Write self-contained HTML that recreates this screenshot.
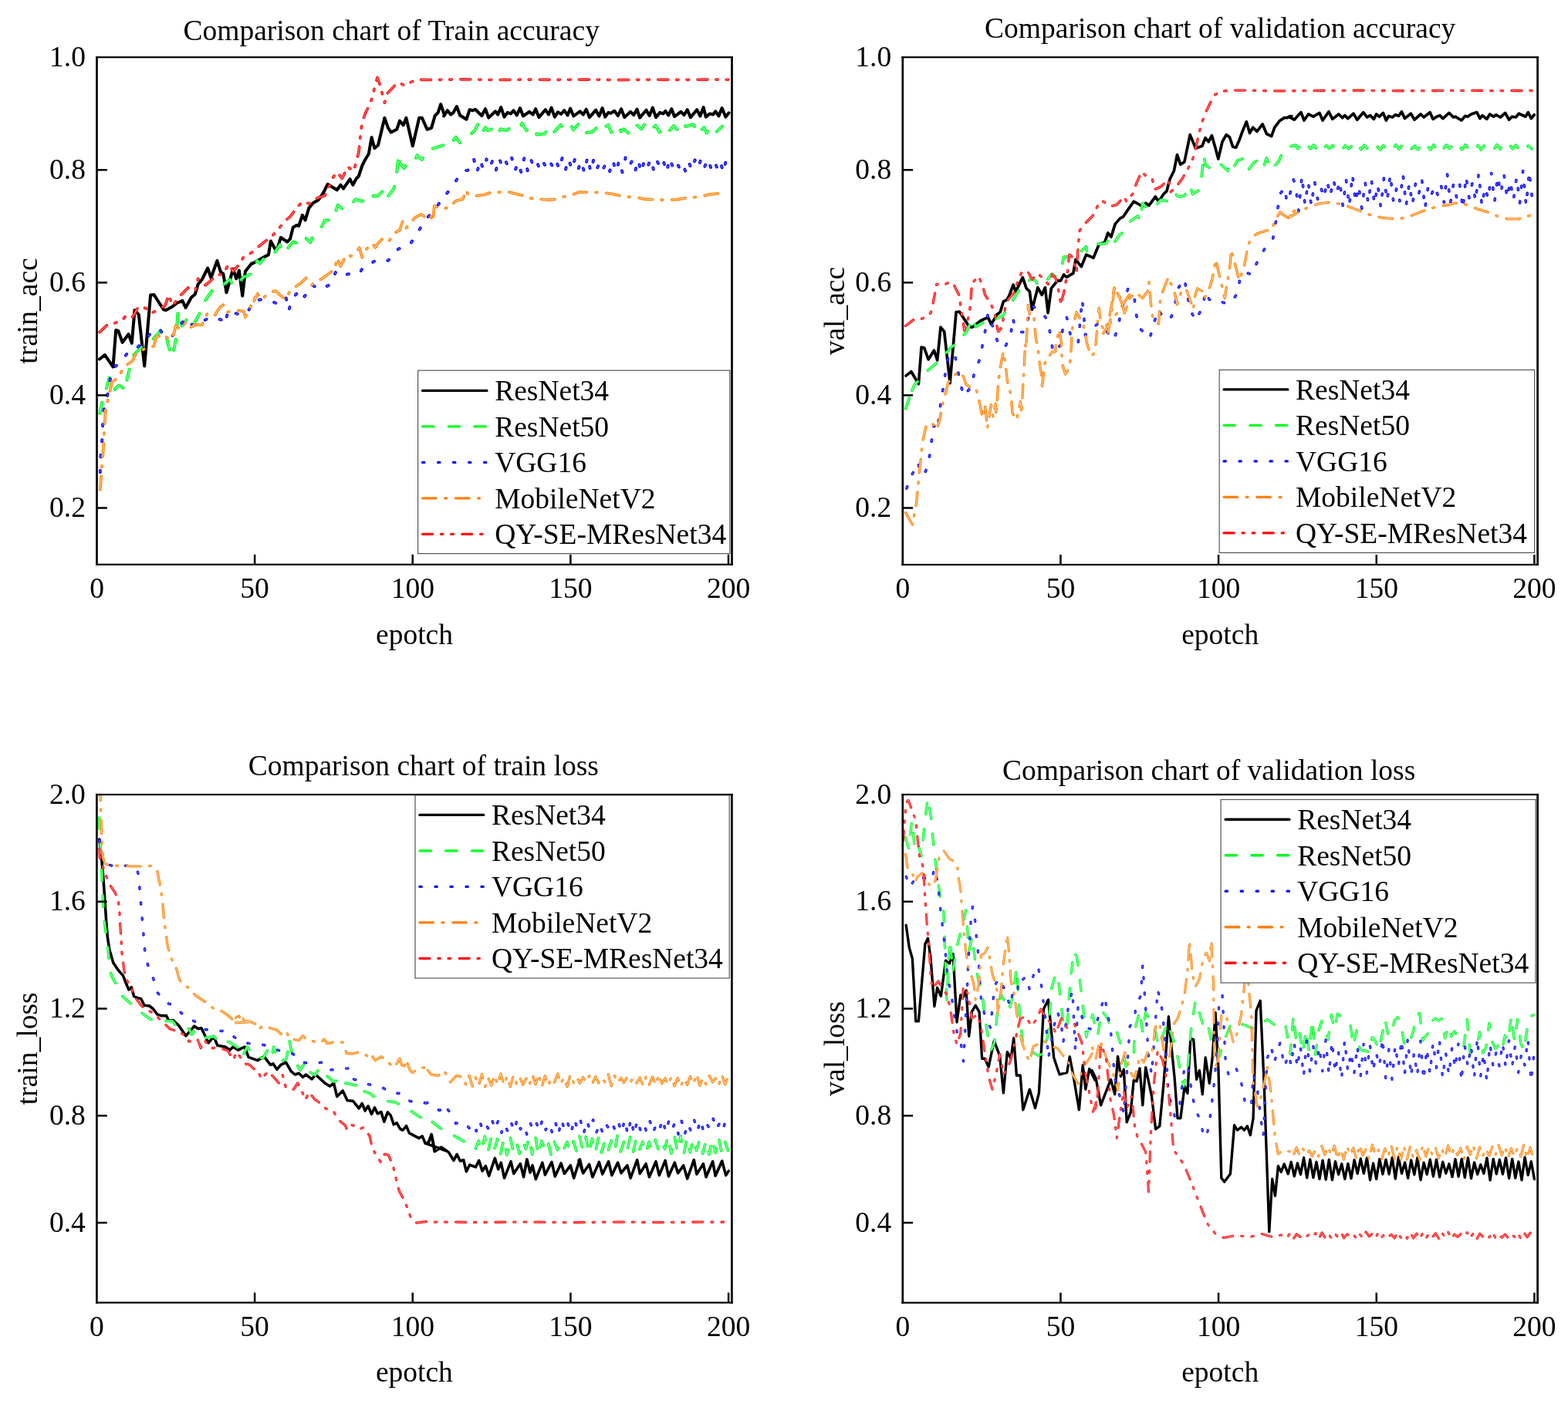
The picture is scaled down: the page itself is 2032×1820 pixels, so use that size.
<!DOCTYPE html><html><head><meta charset="utf-8"><title>Comparison charts</title>
<style>html,body{margin:0;padding:0;background:#fff;}svg{display:block;filter:blur(0.4px);}</style></head><body>
<svg width="2032" height="1820" viewBox="0 0 2032 1820" style="font-family:'Liberation Serif','Times New Roman',serif;">
<rect width="2032" height="1820" fill="#fff"/>
<clipPath id="c1"><rect x="125.5" y="74.2" width="823.0" height="657.5999999999999"/></clipPath>
<g clip-path="url(#c1)" fill="none" stroke-width="3.4" stroke-linejoin="round" stroke-linecap="round">
<path d="M129.0,465.5 L135.9,460.2 L146.5,475.6 L150.2,427.9 L153.3,429.0 L158.6,443.8 L166.6,433.2 L170.8,444.9 L174.5,402.0 L179.8,407.8 L187.2,474.5 L195.1,382.4 L199.4,381.9 L212.1,401.5 L215.2,402.0 L223.7,397.2 L229.0,393.0 L236.4,389.8 L240.6,398.8 L248.0,385.6 L252.8,381.4 L256.5,368.7 L261.8,362.3 L269.2,347.5 L273.4,360.2 L281.4,338.0 L286.1,352.8 L289.3,354.9 L293.5,379.3 L302.0,348.6 L306.2,361.3 L309.9,350.7 L314.2,383.5 L317.9,351.7 L326.3,341.2 L327.5,341.5 L344.3,332.1 L348.0,330.3 L350.8,312.5 L356.4,322.8 L359.2,322.8 L363.9,307.9 L372.3,313.5 L376.0,309.7 L379.8,294.8 L384.4,292.0 L387.2,292.9 L391.9,278.9 L395.6,285.5 L400.3,269.6 L405.9,263.0 L412.5,259.3 L419.0,250.0 L424.6,238.8 L436.7,246.2 L441.4,239.7 L445.1,244.4 L453.5,232.2 L457.3,239.7 L461.9,231.3 L464.8,228.5 L469.4,214.5 L473.2,207.0 L477.8,199.5 L481.6,178.1 L485.3,192.1 L490.0,188.3 L498.4,152.8 L503.0,165.9 L506.8,171.5 L514.2,167.8 L518.0,156.6 L522.7,162.2 L526.4,152.8 L534.8,189.3 L543.2,152.8 L546.9,152.8 L553.5,167.8 L559.1,165.9 L563.7,150.0 L567.5,146.3 L571.2,135.1 L575.9,149.1 L575.2,150.5 L579.9,143.2 L584.1,148.5 L587.2,146.4 L591.9,138.0 L596.1,149.5 L604.5,154.7 L608.6,142.2 L612.8,143.2 L615.9,141.7 L624.3,150.0 L629.0,141.2 L633.2,152.6 L642.0,144.3 L645.2,148.5 L649.3,139.1 L653.5,151.6 L657.7,145.9 L661.9,147.4 L665.5,143.2 L669.7,149.5 L673.9,140.1 L678.0,150.5 L685.9,144.8 L690.6,148.5 L694.2,141.2 L698.4,152.1 L706.8,142.2 L710.9,148.5 L714.6,139.6 L718.8,151.6 L722.9,145.3 L727.1,147.9 L731.3,143.2 L735.5,149.5 L739.1,140.6 L743.3,150.5 L751.6,144.3 L755.8,148.5 L759.7,141.7 L763.9,152.1 L772.2,142.7 L776.4,150.5 L780.6,140.1 L784.2,151.6 L788.4,145.9 L791.5,146.9 L796.2,143.8 L800.9,150.0 L805.1,141.2 L809.3,152.1 L817.1,144.8 L821.3,149.0 L825.5,141.7 L829.1,152.6 L837.5,142.7 L841.6,150.0 L845.8,139.6 L850.0,152.1 L855.2,145.9 L859.4,147.4 L862.5,143.8 L866.2,149.5 L870.4,141.2 L874.0,151.1 L882.4,144.8 L886.5,149.0 L890.7,142.2 L894.9,152.1 L903.2,142.2 L907.4,150.5 L911.6,139.1 L914.7,151.6 L919.9,147.4 L924.1,148.5 L927.3,144.3 L931.4,150.5 L935.6,140.1 L940.3,151.6 L944.5,146.4" stroke="#000000" stroke-width="4.03"/>
<path d="M129.3,535.8 L132.6,520.4 L138.1,502.3 L142.0,488.0 L148.6,504.8 L153.9,499.5 L159.2,502.6 L162.9,506.9 L164.4,492.1 L171.9,462.4 L174.0,459.3 L183.5,449.7 L194.1,444.4 L202.5,434.9 L211.0,425.4 L214.2,430.7 L218.4,448.7 L222.6,463.0 L225.8,450.8 L228.5,437.0 L230.6,403.2 L234.3,407.8 L235.9,422.6 L244.3,411.0 L250.2,421.6 L259.7,404.7 L265.0,390.9 L274.5,377.1 L277.7,372.9 L286.1,371.9 L297.8,362.3 L303.1,371.9 L315.8,359.2 L321.1,357.0 L326.3,354.9 L325.6,354.6 L333.1,337.8 L336.8,341.5 L344.3,332.1 L352.7,332.1 L363.0,317.2 L365.8,328.4 L370.4,324.7 L379.8,313.5 L389.1,316.3 L394.7,306.9 L402.2,314.4 L406.9,303.2 L415.3,296.7 L420.9,285.5 L432.1,285.5 L433.9,278.0 L437.7,265.8 L443.3,270.5 L450.7,270.5 L461.0,258.4 L469.4,261.2 L479.7,250.0 L484.4,254.6 L490.0,253.7 L499.3,244.4 L502.1,255.6 L510.5,244.4 L513.3,230.4 L517.0,199.5 L518.0,210.7 L523.6,218.2 L529.2,210.7 L536.7,210.7 L540.4,201.4 L546.9,207.0 L553.5,194.9 L568.4,190.2 L574.0,188.3 L575.2,188.1 L579.9,191.8 L590.9,177.7 L595.6,185.0 L599.2,180.8 L610.7,173.5 L615.9,168.3 L619.6,159.9 L624.3,172.5 L629.0,165.2 L632.6,169.3 L642.0,165.2 L645.2,173.5 L648.8,167.3 L656.1,169.3 L665.5,163.1 L673.4,165.7 L676.5,159.9 L682.2,169.3 L691.1,164.1 L695.8,174.6 L705.7,173.5 L713.0,163.1 L718.2,170.9 L726.6,162.0 L728.7,164.1 L734.9,166.2 L739.1,159.9 L742.8,168.3 L750.6,159.9 L756.3,172.5 L767.5,170.9 L771.7,167.3 L776.9,159.4 L783.2,165.2 L788.4,162.0 L792.1,171.4 L800.9,162.0 L804.6,170.4 L808.2,167.3 L816.6,174.6 L824.9,162.0 L831.2,167.3 L837.5,157.9 L840.1,164.1 L845.8,166.2 L849.5,162.6 L854.7,171.4 L863.6,164.1 L866.7,170.4 L873.0,163.1 L879.8,170.4 L886.5,159.9 L888.6,164.1 L897.0,161.5 L899.1,162.0 L903.2,174.0 L912.1,165.2 L915.8,172.5 L919.4,165.2 L926.2,173.0 L936.1,163.6" stroke="#00ff1e" stroke-width="4.03" stroke-dasharray="14.3 19.4"/>
<path d="M129.3,535.8 L132.6,520.4 L138.1,502.3 L142.0,488.0 L148.6,504.8 L153.9,499.5 L159.2,502.6 L162.9,506.9 L164.4,492.1 L171.9,462.4 L174.0,459.3 L183.5,449.7 L194.1,444.4 L202.5,434.9 L211.0,425.4 L214.2,430.7 L218.4,448.7 L222.6,463.0 L225.8,450.8 L228.5,437.0 L230.6,403.2 L234.3,407.8 L235.9,422.6 L244.3,411.0 L250.2,421.6 L259.7,404.7 L265.0,390.9 L274.5,377.1 L277.7,372.9 L286.1,371.9 L297.8,362.3 L303.1,371.9 L315.8,359.2 L321.1,357.0 L326.3,354.9 L325.6,354.6 L333.1,337.8 L336.8,341.5 L344.3,332.1 L352.7,332.1 L363.0,317.2 L365.8,328.4 L370.4,324.7 L379.8,313.5 L389.1,316.3 L394.7,306.9 L402.2,314.4 L406.9,303.2 L415.3,296.7 L420.9,285.5 L432.1,285.5 L433.9,278.0 L437.7,265.8 L443.3,270.5 L450.7,270.5 L461.0,258.4 L469.4,261.2 L479.7,250.0 L484.4,254.6 L490.0,253.7 L499.3,244.4 L502.1,255.6 L510.5,244.4 L513.3,230.4 L517.0,199.5 L518.0,210.7 L523.6,218.2 L529.2,210.7 L536.7,210.7 L540.4,201.4 L546.9,207.0 L553.5,194.9 L568.4,190.2 L574.0,188.3 L575.2,188.1 L579.9,191.8 L590.9,177.7 L595.6,185.0 L599.2,180.8 L610.7,173.5 L615.9,168.3 L619.6,159.9 L624.3,172.5 L629.0,165.2 L632.6,169.3 L642.0,165.2 L645.2,173.5 L648.8,167.3 L656.1,169.3 L665.5,163.1 L673.4,165.7 L676.5,159.9 L682.2,169.3 L691.1,164.1 L695.8,174.6 L705.7,173.5 L713.0,163.1 L718.2,170.9 L726.6,162.0 L728.7,164.1 L734.9,166.2 L739.1,159.9 L742.8,168.3 L750.6,159.9 L756.3,172.5 L767.5,170.9 L771.7,167.3 L776.9,159.4 L783.2,165.2 L788.4,162.0 L792.1,171.4 L800.9,162.0 L804.6,170.4 L808.2,167.3 L816.6,174.6 L824.9,162.0 L831.2,167.3 L837.5,157.9 L840.1,164.1 L845.8,166.2 L849.5,162.6 L854.7,171.4 L863.6,164.1 L866.7,170.4 L873.0,163.1 L879.8,170.4 L886.5,159.9 L888.6,164.1 L897.0,161.5 L899.1,162.0 L903.2,174.0 L912.1,165.2 L915.8,172.5 L919.4,165.2 L926.2,173.0 L936.1,163.6" stroke="#9dffc8" stroke-width="1.1" stroke-dasharray="14.3 19.4"/>
<path d="M129.9,612.2 L130.4,591.9 L132.1,572.1 L133.0,551.8 L134.3,532.5 L139.2,512.7 L142.5,493.0 L146.5,477.2 L156.5,469.3 L167.6,454.5 L177.7,450.8 L187.7,440.7 L198.3,428.6 L206.8,426.5 L212.6,435.4 L222.6,436.5 L232.2,423.8 L240.6,412.2 L250.7,422.8 L269.7,412.7 L277.7,411.6 L287.2,414.8 L290.9,420.6 L296.2,401.6 L307.3,406.9 L311.5,406.9 L319.5,406.9 L329.3,390.0 L338.7,388.2 L348.0,389.1 L357.4,392.9 L370.4,384.4 L374.2,403.1 L377.9,388.2 L389.1,375.1 L394.7,384.4 L404.0,369.5 L415.3,375.1 L428.3,368.6 L435.8,350.8 L447.0,356.4 L454.5,354.6 L465.7,354.6 L471.3,345.2 L480.6,341.5 L488.1,336.8 L503.0,337.8 L516.1,322.8 L531.1,317.2 L541.3,301.3 L551.6,284.5 L562.8,272.4 L574.9,255.6 L574.7,256.0 L587.7,239.8 L598.2,222.6 L610.0,219.6 L614.1,206.5 L618.2,223.3 L622.3,207.3 L626.4,220.1 L630.5,206.3 L634.6,217.5 L638.7,206.9 L642.7,221.0 L646.8,204.7 L650.9,216.8 L655.0,208.5 L659.1,216.8 L663.2,204.6 L667.3,221.5 L671.4,210.6 L675.5,223.8 L679.6,203.4 L683.7,221.2 L687.8,206.1 L691.9,217.3 L696.0,210.8 L700.0,220.2 L704.1,210.4 L708.2,217.6 L712.3,209.0 L716.4,216.3 L720.5,207.3 L724.6,219.5 L728.7,204.3 L732.8,220.1 L736.9,205.9 L741.0,220.0 L745.1,205.7 L749.2,219.7 L753.3,208.7 L757.3,223.9 L761.4,203.1 L765.5,222.7 L769.6,205.4 L773.7,218.6 L777.8,209.1 L781.9,218.4 L786.0,210.4 L790.1,222.1 L794.2,207.8 L798.3,222.7 L802.4,207.9 L806.5,223.6 L810.6,204.3 L814.6,216.1 L818.7,209.3 L822.8,223.2 L826.9,207.2 L831.0,223.7 L835.1,207.8 L839.2,216.7 L843.3,206.0 L847.4,222.2 L851.5,208.8 L855.6,216.8 L859.7,208.3 L863.8,223.6 L867.9,205.0 L872.0,217.0 L876.0,209.0 L880.1,216.9 L884.2,210.4 L888.3,222.3 L892.4,209.5 L896.5,220.5 L900.6,207.4 L904.7,217.6 L908.8,205.2 L912.9,217.1 L917.0,205.9 L921.1,217.0 L925.2,207.6 L929.3,217.8 L933.3,208.8 L937.4,223.7 L941.5,204.6" stroke="#0000ff" stroke-width="3.84" stroke-dasharray="2.2 17.8"/>
<path d="M129.9,612.2 L130.4,591.9 L132.1,572.1 L133.0,551.8 L134.3,532.5 L139.2,512.7 L142.5,493.0 L146.5,477.2 L156.5,469.3 L167.6,454.5 L177.7,450.8 L187.7,440.7 L198.3,428.6 L206.8,426.5 L212.6,435.4 L222.6,436.5 L232.2,423.8 L240.6,412.2 L250.7,422.8 L269.7,412.7 L277.7,411.6 L287.2,414.8 L290.9,420.6 L296.2,401.6 L307.3,406.9 L311.5,406.9 L319.5,406.9 L329.3,390.0 L338.7,388.2 L348.0,389.1 L357.4,392.9 L370.4,384.4 L374.2,403.1 L377.9,388.2 L389.1,375.1 L394.7,384.4 L404.0,369.5 L415.3,375.1 L428.3,368.6 L435.8,350.8 L447.0,356.4 L454.5,354.6 L465.7,354.6 L471.3,345.2 L480.6,341.5 L488.1,336.8 L503.0,337.8 L516.1,322.8 L531.1,317.2 L541.3,301.3 L551.6,284.5 L562.8,272.4 L574.9,255.6 L574.7,256.0 L587.7,239.8 L598.2,222.6 L610.0,219.6 L614.1,206.5 L618.2,223.3 L622.3,207.3 L626.4,220.1 L630.5,206.3 L634.6,217.5 L638.7,206.9 L642.7,221.0 L646.8,204.7 L650.9,216.8 L655.0,208.5 L659.1,216.8 L663.2,204.6 L667.3,221.5 L671.4,210.6 L675.5,223.8 L679.6,203.4 L683.7,221.2 L687.8,206.1 L691.9,217.3 L696.0,210.8 L700.0,220.2 L704.1,210.4 L708.2,217.6 L712.3,209.0 L716.4,216.3 L720.5,207.3 L724.6,219.5 L728.7,204.3 L732.8,220.1 L736.9,205.9 L741.0,220.0 L745.1,205.7 L749.2,219.7 L753.3,208.7 L757.3,223.9 L761.4,203.1 L765.5,222.7 L769.6,205.4 L773.7,218.6 L777.8,209.1 L781.9,218.4 L786.0,210.4 L790.1,222.1 L794.2,207.8 L798.3,222.7 L802.4,207.9 L806.5,223.6 L810.6,204.3 L814.6,216.1 L818.7,209.3 L822.8,223.2 L826.9,207.2 L831.0,223.7 L835.1,207.8 L839.2,216.7 L843.3,206.0 L847.4,222.2 L851.5,208.8 L855.6,216.8 L859.7,208.3 L863.8,223.6 L867.9,205.0 L872.0,217.0 L876.0,209.0 L880.1,216.9 L884.2,210.4 L888.3,222.3 L892.4,209.5 L896.5,220.5 L900.6,207.4 L904.7,217.6 L908.8,205.2 L912.9,217.1 L917.0,205.9 L921.1,217.0 L925.2,207.6 L929.3,217.8 L933.3,208.8 L937.4,223.7 L941.5,204.6" stroke="#8080ff" stroke-width="1.1" stroke-dasharray="2.2 17.8"/>
<path d="M129.9,634.7 L134.3,575.4 L136.5,532.5 L145.3,495.2 L153.0,489.7 L158.1,480.4 L164.4,473.0 L171.9,467.7 L176.1,457.7 L184.6,454.0 L189.8,450.3 L199.4,448.7 L202.5,437.0 L212.1,433.3 L220.0,441.3 L225.3,432.8 L227.9,422.2 L234.3,426.5 L240.1,418.5 L244.3,425.9 L253.3,420.6 L261.8,421.2 L268.7,406.3 L277.7,409.5 L285.1,398.3 L289.3,395.1 L293.5,404.7 L307.3,402.5 L315.8,403.6 L317.9,411.0 L330.6,385.6 L329.3,390.0 L334.0,380.7 L338.7,388.2 L349.9,378.8 L357.4,377.0 L363.0,382.6 L370.4,388.2 L376.0,377.0 L383.5,371.4 L389.1,367.6 L396.6,360.2 L404.0,369.5 L409.7,363.9 L416.2,362.0 L423.7,356.4 L433.9,349.0 L436.7,334.0 L441.4,345.2 L448.9,330.3 L454.5,332.1 L461.9,326.5 L465.7,320.9 L469.4,334.0 L475.0,322.8 L482.5,315.3 L486.2,320.9 L490.0,315.3 L497.4,307.9 L504.9,311.6 L510.5,302.3 L518.0,298.5 L521.7,287.3 L525.5,296.7 L532.9,287.3 L538.5,281.7 L546.0,278.0 L551.6,281.7 L557.2,278.0 L560.9,287.3 L562.8,266.8 L570.3,270.5 L583.6,269.0 L585.1,266.4 L590.9,260.2 L599.8,258.1 L603.9,246.6 L606.5,251.8 L617.0,253.9 L628.5,252.3 L636.8,249.2 L646.2,249.2 L658.7,248.7 L670.2,251.8 L679.6,253.9 L688.0,257.0 L699.4,258.1 L710.9,259.1 L721.4,258.1 L728.7,255.5 L740.2,252.9 L751.6,248.7 L755.0,249.2 L769.6,249.2 L781.1,249.7 L792.6,251.3 L809.3,254.9 L822.9,255.5 L835.4,258.1 L853.1,259.1 L864.6,259.1 L877.1,258.6 L893.8,256.0 L906.4,255.5 L917.9,252.3 L936.6,250.2" stroke="#ff8000" stroke-width="3.65" stroke-dasharray="17.5 11.6 1.8 12"/>
<path d="M129.9,634.7 L134.3,575.4 L136.5,532.5 L145.3,495.2 L153.0,489.7 L158.1,480.4 L164.4,473.0 L171.9,467.7 L176.1,457.7 L184.6,454.0 L189.8,450.3 L199.4,448.7 L202.5,437.0 L212.1,433.3 L220.0,441.3 L225.3,432.8 L227.9,422.2 L234.3,426.5 L240.1,418.5 L244.3,425.9 L253.3,420.6 L261.8,421.2 L268.7,406.3 L277.7,409.5 L285.1,398.3 L289.3,395.1 L293.5,404.7 L307.3,402.5 L315.8,403.6 L317.9,411.0 L330.6,385.6 L329.3,390.0 L334.0,380.7 L338.7,388.2 L349.9,378.8 L357.4,377.0 L363.0,382.6 L370.4,388.2 L376.0,377.0 L383.5,371.4 L389.1,367.6 L396.6,360.2 L404.0,369.5 L409.7,363.9 L416.2,362.0 L423.7,356.4 L433.9,349.0 L436.7,334.0 L441.4,345.2 L448.9,330.3 L454.5,332.1 L461.9,326.5 L465.7,320.9 L469.4,334.0 L475.0,322.8 L482.5,315.3 L486.2,320.9 L490.0,315.3 L497.4,307.9 L504.9,311.6 L510.5,302.3 L518.0,298.5 L521.7,287.3 L525.5,296.7 L532.9,287.3 L538.5,281.7 L546.0,278.0 L551.6,281.7 L557.2,278.0 L560.9,287.3 L562.8,266.8 L570.3,270.5 L583.6,269.0 L585.1,266.4 L590.9,260.2 L599.8,258.1 L603.9,246.6 L606.5,251.8 L617.0,253.9 L628.5,252.3 L636.8,249.2 L646.2,249.2 L658.7,248.7 L670.2,251.8 L679.6,253.9 L688.0,257.0 L699.4,258.1 L710.9,259.1 L721.4,258.1 L728.7,255.5 L740.2,252.9 L751.6,248.7 L755.0,249.2 L769.6,249.2 L781.1,249.7 L792.6,251.3 L809.3,254.9 L822.9,255.5 L835.4,258.1 L853.1,259.1 L864.6,259.1 L877.1,258.6 L893.8,256.0 L906.4,255.5 L917.9,252.3 L936.6,250.2" stroke="#ffd0a0" stroke-width="1.1" stroke-dasharray="17.5 11.6 1.8 12"/>
<path d="M129.0,430.6 L139.0,421.1 L148.6,418.9 L159.2,414.2 L164.4,407.8 L171.9,411.0 L179.3,397.8 L188.8,399.4 L196.2,405.7 L204.7,402.0 L214.2,395.7 L218.4,382.4 L223.7,396.2 L234.3,382.4 L244.9,371.9 L253.3,376.1 L256.5,361.3 L266.0,369.7 L271.3,365.5 L280.8,356.0 L288.3,356.0 L296.7,342.2 L302.0,351.7 L310.5,342.2 L315.8,332.7 L326.3,327.4 L331.2,322.8 L340.5,315.3 L351.8,306.9 L361.1,296.7 L368.6,287.3 L376.0,280.8 L385.4,268.6 L391.0,262.1 L402.2,264.0 L411.5,256.5 L420.9,253.7 L432.1,229.4 L436.7,222.9 L443.3,231.3 L450.7,216.3 L458.2,221.9 L461.9,208.9 L464.8,197.7 L467.6,171.5 L469.4,158.4 L474.1,145.4 L479.7,134.2 L483.4,123.0 L485.3,113.6 L489.0,100.5 L493.7,113.6 L495.6,123.0 L498.4,133.2 L502.1,121.1 L512.4,109.9 L518.0,107.1 L523.6,110.8 L531.1,107.1 L540.4,103.3 L560.0,103.5 L600.0,102.8 L640.0,103.6 L680.0,103.1 L720.0,103.4 L760.0,103.0 L800.0,103.6 L840.0,103.2 L880.0,103.4 L920.0,103.1 L944.5,103.3" stroke="#ff0a0a" stroke-width="3.65" stroke-dasharray="12.9 11 2.2 11 2.6 11.5"/>
<path d="M129.0,430.6 L139.0,421.1 L148.6,418.9 L159.2,414.2 L164.4,407.8 L171.9,411.0 L179.3,397.8 L188.8,399.4 L196.2,405.7 L204.7,402.0 L214.2,395.7 L218.4,382.4 L223.7,396.2 L234.3,382.4 L244.9,371.9 L253.3,376.1 L256.5,361.3 L266.0,369.7 L271.3,365.5 L280.8,356.0 L288.3,356.0 L296.7,342.2 L302.0,351.7 L310.5,342.2 L315.8,332.7 L326.3,327.4 L331.2,322.8 L340.5,315.3 L351.8,306.9 L361.1,296.7 L368.6,287.3 L376.0,280.8 L385.4,268.6 L391.0,262.1 L402.2,264.0 L411.5,256.5 L420.9,253.7 L432.1,229.4 L436.7,222.9 L443.3,231.3 L450.7,216.3 L458.2,221.9 L461.9,208.9 L464.8,197.7 L467.6,171.5 L469.4,158.4 L474.1,145.4 L479.7,134.2 L483.4,123.0 L485.3,113.6 L489.0,100.5 L493.7,113.6 L495.6,123.0 L498.4,133.2 L502.1,121.1 L512.4,109.9 L518.0,107.1 L523.6,110.8 L531.1,107.1 L540.4,103.3 L560.0,103.5 L600.0,102.8 L640.0,103.6 L680.0,103.1 L720.0,103.4 L760.0,103.0 L800.0,103.6 L840.0,103.2 L880.0,103.4 L920.0,103.1 L944.5,103.3" stroke="#ff8080" stroke-width="1.1" stroke-dasharray="12.9 11 2.2 11 2.6 11.5"/>
</g>
<rect x="541.6" y="480.2" width="404.2" height="237.4" fill="#fff" stroke="#555" stroke-width="1.2"/>
<line x1="547.6" y1="506.4" x2="630.9" y2="506.4" stroke="#000000" stroke-width="3.4" stroke-linecap="round"/>
<text x="641.2" y="519.1" font-size="37.5">ResNet34</text>
<line x1="547.6" y1="552.9" x2="630.9" y2="552.9" stroke="#00ff1e" stroke-width="3.4" stroke-linecap="round" stroke-dasharray="14.3 19.4"/>
<text x="641.2" y="565.6" font-size="37.5">ResNet50</text>
<line x1="547.6" y1="599.4" x2="630.9" y2="599.4" stroke="#0000ff" stroke-width="3.4" stroke-linecap="round" stroke-dasharray="2.2 17.8"/>
<text x="641.2" y="612.1" font-size="37.5">VGG16</text>
<line x1="547.6" y1="645.9" x2="630.9" y2="645.9" stroke="#ff8000" stroke-width="3.4" stroke-linecap="round" stroke-dasharray="17.5 11.6 1.8 12"/>
<text x="641.2" y="658.6" font-size="37.5">MobileNetV2</text>
<line x1="547.6" y1="692.4" x2="630.9" y2="692.4" stroke="#ff0a0a" stroke-width="3.4" stroke-linecap="round" stroke-dasharray="12.9 11 2.2 11 2.6 11.5"/>
<text x="641.2" y="705.1" font-size="37.5">QY-SE-MResNet34</text>
<g fill="#000">
<rect x="124.15" y="73.10" width="2.7" height="659.80"/>
<rect x="947.15" y="73.10" width="2.7" height="659.80"/>
<rect x="124.15" y="73.10" width="825.70" height="2.2"/>
<rect x="124.15" y="730.70" width="825.70" height="2.2"/>
<rect x="328.88" y="718.80" width="2.5" height="13"/>
<rect x="533.50" y="718.80" width="2.5" height="13"/>
<rect x="738.12" y="718.80" width="2.5" height="13"/>
<rect x="942.75" y="718.80" width="2.5" height="13"/>
<rect x="125.50" y="657.19" width="13.3" height="2.5"/>
<rect x="125.50" y="511.13" width="13.3" height="2.5"/>
<rect x="125.50" y="365.07" width="13.3" height="2.5"/>
<rect x="125.50" y="219.01" width="13.3" height="2.5"/>
</g>
<text x="125.5" y="775.0" font-size="37.5" text-anchor="middle">0</text>
<text x="330.1" y="775.0" font-size="37.5" text-anchor="middle">50</text>
<text x="534.8" y="775.0" font-size="37.5" text-anchor="middle">100</text>
<text x="739.4" y="775.0" font-size="37.5" text-anchor="middle">150</text>
<text x="944.0" y="775.0" font-size="37.5" text-anchor="middle">200</text>
<text x="110.9" y="669.9" font-size="37.5" text-anchor="end">0.2</text>
<text x="110.9" y="523.9" font-size="37.5" text-anchor="end">0.4</text>
<text x="110.9" y="377.8" font-size="37.5" text-anchor="end">0.6</text>
<text x="110.9" y="231.8" font-size="37.5" text-anchor="end">0.8</text>
<text x="110.9" y="85.7" font-size="37.5" text-anchor="end">1.0</text>
<text x="537.0" y="834.5" font-size="37.5" text-anchor="middle">epotch</text>
<text transform="translate(48.0,403.0) rotate(-90)" x="0" y="0" font-size="37.5" text-anchor="middle">train_acc</text>
<text x="507.2" y="51.6" font-size="37.5" text-anchor="middle">Comparison chart of Train accuracy</text>
<clipPath id="c2"><rect x="1169.8" y="74.2" width="822.8" height="657.8"/></clipPath>
<g clip-path="url(#c2)" fill="none" stroke-width="3.4" stroke-linejoin="round" stroke-linecap="round">
<path d="M1174.0,487.1 L1180.9,481.8 L1190.4,497.7 L1194.1,450.0 L1197.8,451.1 L1203.1,465.9 L1210.5,454.3 L1214.7,467.0 L1219.0,424.1 L1223.7,429.9 L1231.1,496.6 L1239.1,404.5 L1243.3,404.0 L1256.0,423.6 L1260.2,424.1 L1270.8,415.7 L1280.3,411.4 L1284.6,420.4 L1292.0,407.7 L1296.2,404.5 L1300.4,390.8 L1304.7,388.7 L1307.8,383.4 L1313.1,369.1 L1316.3,378.1 L1325.3,359.6 L1330.1,373.9 L1334.3,377.6 L1337.5,401.4 L1344.9,372.8 L1350.2,382.3 L1354.4,372.8 L1358.1,405.6 L1362.3,373.9 L1370.3,363.8 L1374.5,363.8 L1378.7,355.9 L1378.4,356.2 L1382.5,359.3 L1390.9,354.1 L1394.0,336.3 L1401.3,345.7 L1407.6,330.1 L1417.0,334.3 L1424.3,316.5 L1431.6,314.4 L1435.8,301.9 L1439.9,307.1 L1445.2,290.4 L1451.4,283.1 L1455.6,281.0 L1461.9,271.6 L1469.2,261.2 L1480.6,267.5 L1484.8,263.3 L1489.0,266.4 L1497.3,254.9 L1501.5,261.2 L1507.8,251.8 L1512.0,247.6 L1516.1,232.0 L1521.4,221.5 L1525.5,200.6 L1529.7,213.2 L1534.9,210.0 L1542.2,174.6 L1549.5,192.3 L1557.9,189.2 L1562.1,178.7 L1566.2,183.9 L1570.4,175.6 L1574.6,190.2 L1578.8,205.9 L1584.0,183.9 L1589.2,174.6 L1593.4,177.7 L1597.6,190.2 L1601.7,191.3 L1605.9,181.9 L1610.1,170.4 L1615.3,157.8 L1619.5,172.5 L1623.7,165.2 L1628.9,170.4 L1636.2,161.0 L1641.4,173.5 L1647.7,176.6 L1651.8,165.2 L1658.1,156.8 L1664.4,152.6 L1668.5,152.6 L1673.8,150.5 L1670.0,151.2 L1677.2,155.2 L1686.0,145.6 L1690.0,156.0 L1695.6,148.0 L1702.0,151.2 L1710.0,146.4 L1714.0,156.0 L1722.0,144.8 L1726.8,154.4 L1734.8,148.0 L1739.6,152.8 L1742.8,149.6 L1746.8,153.6 L1754.0,147.2 L1758.8,155.2 L1766.8,145.6 L1771.6,152.0 L1775.6,149.6 L1780.4,154.4 L1783.6,148.0 L1787.6,151.2 L1792.4,146.4 L1796.4,156.0 L1799.6,150.4 L1804.4,152.0 L1808.4,148.8 L1812.4,150.4 L1816.4,144.8 L1820.4,153.6 L1828.3,147.2 L1833.1,155.2 L1841.1,148.0 L1845.1,152.0 L1853.1,145.6 L1857.1,154.4 L1861.9,151.2 L1865.9,149.6 L1869.9,153.6 L1877.9,146.4 L1883.5,152.0 L1885.9,151.2 L1893.9,156.0 L1898.7,150.4 L1901.9,151.2 L1906.7,148.0 L1913.9,145.6 L1917.9,153.6 L1921.1,149.6 L1926.7,154.4 L1930.7,148.0 L1935.5,151.2 L1938.7,148.8 L1944.3,152.0 L1950.7,146.4 L1955.5,155.2 L1959.5,151.2 L1964.3,152.0 L1968.3,147.2 L1977.1,151.2 L1980.3,145.6 L1984.3,153.6 L1988.3,148.8" stroke="#000000" stroke-width="3.70"/>
<path d="M1173.8,529.7 L1178.7,514.8 L1176.6,518.8 L1185.1,498.7 L1189.3,494.5 L1193.6,488.1 L1203.1,479.7 L1209.4,474.4 L1215.8,469.1 L1222.1,459.6 L1227.4,456.4 L1232.7,450.0 L1239.1,445.8 L1245.4,441.6 L1247.5,435.2 L1251.8,431.5 L1256.0,422.5 L1260.2,412.0 L1262.3,418.3 L1264.5,423.6 L1271.9,419.4 L1278.7,416.2 L1283.5,413.5 L1288.8,410.9 L1290.9,413.0 L1298.8,409.8 L1302.6,404.5 L1307.3,397.7 L1312.1,389.7 L1316.3,383.4 L1320.5,376.0 L1325.8,372.3 L1331.1,366.5 L1336.4,360.6 L1342.8,364.3 L1344.9,370.7 L1351.2,366.5 L1357.6,362.2 L1362.9,355.3 L1367.1,358.5 L1372.4,351.6 L1376.6,344.2 L1376.3,343.7 L1378.4,333.2 L1389.8,332.2 L1395.1,331.1 L1407.6,319.6 L1408.6,325.9 L1414.9,325.9 L1422.2,316.5 L1433.7,315.5 L1436.8,309.2 L1437.8,316.5 L1444.1,314.4 L1450.4,305.0 L1457.7,299.8 L1462.9,288.3 L1474.4,280.0 L1477.5,286.2 L1480.6,263.3 L1486.9,270.6 L1494.2,270.6 L1504.7,259.1 L1514.1,261.2 L1522.4,249.7 L1526.6,254.9 L1534.9,253.9 L1542.2,240.3 L1545.4,251.8 L1553.7,246.6 L1556.8,234.1 L1560.0,200.6 L1562.1,214.2 L1567.3,217.3 L1571.5,212.1 L1578.8,210.0 L1591.3,221.5 L1594.4,209.0 L1599.6,215.3 L1603.8,208.0 L1610.1,205.9 L1611.1,217.3 L1618.4,219.4 L1624.7,211.1 L1631.0,206.9 L1637.2,217.3 L1641.4,204.8 L1645.6,219.4 L1651.8,215.3 L1657.1,209.0 L1664.4,192.3 L1670.6,190.2 L1679.0,188.1 L1682.0,192.6 L1686.1,188.1 L1690.2,193.4 L1694.3,188.4 L1698.4,192.7 L1702.5,187.9 L1706.6,193.7 L1710.7,188.4 L1714.7,193.2 L1718.8,188.8 L1722.9,192.4 L1727.0,188.6 L1731.1,193.3 L1735.2,189.1 L1739.3,193.7 L1743.4,188.8 L1747.5,192.8 L1751.6,189.2 L1755.7,194.0 L1759.8,188.0 L1763.9,193.8 L1768.0,188.2 L1772.0,192.4 L1776.1,188.7 L1780.2,193.2 L1784.3,189.0 L1788.4,194.0 L1792.5,188.6 L1796.6,192.6 L1800.7,187.9 L1804.8,192.6 L1808.9,187.7 L1813.0,193.1 L1817.1,188.3 L1821.2,192.9 L1825.3,188.4 L1829.3,192.7 L1833.4,189.2 L1837.5,193.8 L1841.6,188.8 L1845.7,193.7 L1849.8,188.9 L1853.9,194.0 L1858.0,187.7 L1862.1,193.6 L1866.2,188.0 L1870.3,193.3 L1874.4,188.0 L1878.5,192.6 L1882.6,188.4 L1886.7,193.7 L1890.7,188.9 L1894.8,193.9 L1898.9,187.7 L1903.0,193.0 L1907.1,188.6 L1911.2,193.1 L1915.3,188.6 L1919.4,194.0 L1923.5,188.6 L1927.6,192.4 L1931.7,189.1 L1935.8,193.6 L1939.9,187.6 L1944.0,193.2 L1948.0,188.4 L1952.1,193.3 L1956.2,188.0 L1960.3,192.7 L1964.4,188.2 L1968.5,193.3 L1972.6,188.2 L1976.7,192.7 L1980.8,189.0 L1984.9,192.9" stroke="#00ff1e" stroke-width="3.70" stroke-dasharray="14.3 19.4"/>
<path d="M1173.8,529.7 L1178.7,514.8 L1176.6,518.8 L1185.1,498.7 L1189.3,494.5 L1193.6,488.1 L1203.1,479.7 L1209.4,474.4 L1215.8,469.1 L1222.1,459.6 L1227.4,456.4 L1232.7,450.0 L1239.1,445.8 L1245.4,441.6 L1247.5,435.2 L1251.8,431.5 L1256.0,422.5 L1260.2,412.0 L1262.3,418.3 L1264.5,423.6 L1271.9,419.4 L1278.7,416.2 L1283.5,413.5 L1288.8,410.9 L1290.9,413.0 L1298.8,409.8 L1302.6,404.5 L1307.3,397.7 L1312.1,389.7 L1316.3,383.4 L1320.5,376.0 L1325.8,372.3 L1331.1,366.5 L1336.4,360.6 L1342.8,364.3 L1344.9,370.7 L1351.2,366.5 L1357.6,362.2 L1362.9,355.3 L1367.1,358.5 L1372.4,351.6 L1376.6,344.2 L1376.3,343.7 L1378.4,333.2 L1389.8,332.2 L1395.1,331.1 L1407.6,319.6 L1408.6,325.9 L1414.9,325.9 L1422.2,316.5 L1433.7,315.5 L1436.8,309.2 L1437.8,316.5 L1444.1,314.4 L1450.4,305.0 L1457.7,299.8 L1462.9,288.3 L1474.4,280.0 L1477.5,286.2 L1480.6,263.3 L1486.9,270.6 L1494.2,270.6 L1504.7,259.1 L1514.1,261.2 L1522.4,249.7 L1526.6,254.9 L1534.9,253.9 L1542.2,240.3 L1545.4,251.8 L1553.7,246.6 L1556.8,234.1 L1560.0,200.6 L1562.1,214.2 L1567.3,217.3 L1571.5,212.1 L1578.8,210.0 L1591.3,221.5 L1594.4,209.0 L1599.6,215.3 L1603.8,208.0 L1610.1,205.9 L1611.1,217.3 L1618.4,219.4 L1624.7,211.1 L1631.0,206.9 L1637.2,217.3 L1641.4,204.8 L1645.6,219.4 L1651.8,215.3 L1657.1,209.0 L1664.4,192.3 L1670.6,190.2 L1679.0,188.1 L1682.0,192.6 L1686.1,188.1 L1690.2,193.4 L1694.3,188.4 L1698.4,192.7 L1702.5,187.9 L1706.6,193.7 L1710.7,188.4 L1714.7,193.2 L1718.8,188.8 L1722.9,192.4 L1727.0,188.6 L1731.1,193.3 L1735.2,189.1 L1739.3,193.7 L1743.4,188.8 L1747.5,192.8 L1751.6,189.2 L1755.7,194.0 L1759.8,188.0 L1763.9,193.8 L1768.0,188.2 L1772.0,192.4 L1776.1,188.7 L1780.2,193.2 L1784.3,189.0 L1788.4,194.0 L1792.5,188.6 L1796.6,192.6 L1800.7,187.9 L1804.8,192.6 L1808.9,187.7 L1813.0,193.1 L1817.1,188.3 L1821.2,192.9 L1825.3,188.4 L1829.3,192.7 L1833.4,189.2 L1837.5,193.8 L1841.6,188.8 L1845.7,193.7 L1849.8,188.9 L1853.9,194.0 L1858.0,187.7 L1862.1,193.6 L1866.2,188.0 L1870.3,193.3 L1874.4,188.0 L1878.5,192.6 L1882.6,188.4 L1886.7,193.7 L1890.7,188.9 L1894.8,193.9 L1898.9,187.7 L1903.0,193.0 L1907.1,188.6 L1911.2,193.1 L1915.3,188.6 L1919.4,194.0 L1923.5,188.6 L1927.6,192.4 L1931.7,189.1 L1935.8,193.6 L1939.9,187.6 L1944.0,193.2 L1948.0,188.4 L1952.1,193.3 L1956.2,188.0 L1960.3,192.7 L1964.4,188.2 L1968.5,193.3 L1972.6,188.2 L1976.7,192.7 L1980.8,189.0 L1984.9,192.9" stroke="#9dffc8" stroke-width="1.1" stroke-dasharray="14.3 19.4"/>
<path d="M1174.9,633.0 L1180.4,618.1 L1184.2,611.0 L1189.7,599.5 L1193.6,615.4 L1199.6,611.0 L1204.6,591.2 L1207.3,571.4 L1210.1,551.6 L1215.0,557.7 L1217.2,537.9 L1219.4,518.1 L1223.2,498.2 L1225.8,478.1 L1229.5,461.7 L1237.0,458.0 L1240.7,477.6 L1244.9,497.7 L1248.6,513.5 L1258.1,501.9 L1262.9,482.8 L1269.8,465.4 L1273.5,445.8 L1277.2,426.2 L1280.3,406.1 L1286.7,423.6 L1292.5,442.1 L1302.0,451.6 L1310.0,432.1 L1312.6,412.5 L1315.8,425.7 L1322.1,430.5 L1326.9,430.5 L1332.2,413.5 L1338.0,396.6 L1351.2,406.1 L1359.2,417.8 L1361.3,437.9 L1365.0,456.9 L1375.0,446.9 L1377.1,426.8 L1376.3,426.1 L1382.5,411.5 L1387.7,436.6 L1397.1,444.9 L1402.4,388.5 L1404.4,407.3 L1406.5,434.5 L1422.2,419.9 L1426.4,419.9 L1443.1,440.7 L1449.3,424.0 L1451.4,409.4 L1456.6,390.6 L1461.9,373.9 L1470.2,387.5 L1472.3,407.3 L1477.5,426.1 L1490.0,438.6 L1495.3,419.9 L1500.5,401.1 L1509.9,414.6 L1518.2,410.5 L1523.4,390.6 L1526.6,373.9 L1534.9,361.4 L1542.2,401.1 L1549.5,415.7 L1558.9,396.9 L1562.1,378.1 L1567.3,388.5 L1576.7,387.5 L1584.0,391.7 L1589.2,393.8 L1596.5,390.6 L1604.9,378.1 L1607.0,357.2 L1617.4,354.1 L1621.6,356.2 L1628.9,340.5 L1639.3,321.7 L1649.7,309.2 L1652.9,290.4 L1656.0,269.5 L1659.1,250.8 L1665.4,243.4 L1667.5,262.2 L1671.7,251.8 L1675.8,232.0 L1679.0,239.3 L1683.0,273.8 L1687.1,227.9 L1691.2,265.1 L1695.3,235.6 L1699.4,266.6 L1703.5,235.0 L1707.6,258.2 L1711.7,243.0 L1715.7,256.5 L1719.8,234.5 L1723.9,254.1 L1728.0,232.8 L1732.1,250.5 L1736.2,234.7 L1740.3,267.7 L1744.4,232.6 L1748.5,267.2 L1752.6,226.2 L1756.7,262.2 L1760.8,241.0 L1764.9,271.0 L1769.0,235.9 L1773.0,263.2 L1777.1,232.5 L1781.2,264.4 L1785.3,239.3 L1789.4,268.8 L1793.5,230.0 L1797.6,260.3 L1801.7,226.1 L1805.8,262.2 L1809.9,243.5 L1814.0,260.8 L1818.1,225.8 L1822.2,266.4 L1826.3,237.5 L1830.3,265.3 L1834.4,237.5 L1838.5,252.1 L1842.6,232.5 L1846.7,270.2 L1850.8,241.3 L1854.9,253.0 L1859.0,241.1 L1863.1,252.4 L1867.2,238.4 L1871.3,262.5 L1875.4,225.0 L1879.5,263.7 L1883.6,237.9 L1887.7,256.1 L1891.7,239.4 L1895.8,270.6 L1899.9,228.5 L1904.0,257.2 L1908.1,236.6 L1912.2,260.8 L1916.3,224.6 L1920.4,266.9 L1924.5,242.8 L1928.6,257.9 L1932.7,224.4 L1936.8,261.5 L1940.9,228.7 L1945.0,250.6 L1949.0,226.1 L1953.1,256.7 L1957.2,234.9 L1961.3,259.2 L1965.4,229.9 L1969.5,263.5 L1973.6,221.6 L1977.7,266.1 L1981.8,222.1 L1985.9,261.0" stroke="#0000ff" stroke-width="3.52" stroke-dasharray="2.2 17.8"/>
<path d="M1174.9,633.0 L1180.4,618.1 L1184.2,611.0 L1189.7,599.5 L1193.6,615.4 L1199.6,611.0 L1204.6,591.2 L1207.3,571.4 L1210.1,551.6 L1215.0,557.7 L1217.2,537.9 L1219.4,518.1 L1223.2,498.2 L1225.8,478.1 L1229.5,461.7 L1237.0,458.0 L1240.7,477.6 L1244.9,497.7 L1248.6,513.5 L1258.1,501.9 L1262.9,482.8 L1269.8,465.4 L1273.5,445.8 L1277.2,426.2 L1280.3,406.1 L1286.7,423.6 L1292.5,442.1 L1302.0,451.6 L1310.0,432.1 L1312.6,412.5 L1315.8,425.7 L1322.1,430.5 L1326.9,430.5 L1332.2,413.5 L1338.0,396.6 L1351.2,406.1 L1359.2,417.8 L1361.3,437.9 L1365.0,456.9 L1375.0,446.9 L1377.1,426.8 L1376.3,426.1 L1382.5,411.5 L1387.7,436.6 L1397.1,444.9 L1402.4,388.5 L1404.4,407.3 L1406.5,434.5 L1422.2,419.9 L1426.4,419.9 L1443.1,440.7 L1449.3,424.0 L1451.4,409.4 L1456.6,390.6 L1461.9,373.9 L1470.2,387.5 L1472.3,407.3 L1477.5,426.1 L1490.0,438.6 L1495.3,419.9 L1500.5,401.1 L1509.9,414.6 L1518.2,410.5 L1523.4,390.6 L1526.6,373.9 L1534.9,361.4 L1542.2,401.1 L1549.5,415.7 L1558.9,396.9 L1562.1,378.1 L1567.3,388.5 L1576.7,387.5 L1584.0,391.7 L1589.2,393.8 L1596.5,390.6 L1604.9,378.1 L1607.0,357.2 L1617.4,354.1 L1621.6,356.2 L1628.9,340.5 L1639.3,321.7 L1649.7,309.2 L1652.9,290.4 L1656.0,269.5 L1659.1,250.8 L1665.4,243.4 L1667.5,262.2 L1671.7,251.8 L1675.8,232.0 L1679.0,239.3 L1683.0,273.8 L1687.1,227.9 L1691.2,265.1 L1695.3,235.6 L1699.4,266.6 L1703.5,235.0 L1707.6,258.2 L1711.7,243.0 L1715.7,256.5 L1719.8,234.5 L1723.9,254.1 L1728.0,232.8 L1732.1,250.5 L1736.2,234.7 L1740.3,267.7 L1744.4,232.6 L1748.5,267.2 L1752.6,226.2 L1756.7,262.2 L1760.8,241.0 L1764.9,271.0 L1769.0,235.9 L1773.0,263.2 L1777.1,232.5 L1781.2,264.4 L1785.3,239.3 L1789.4,268.8 L1793.5,230.0 L1797.6,260.3 L1801.7,226.1 L1805.8,262.2 L1809.9,243.5 L1814.0,260.8 L1818.1,225.8 L1822.2,266.4 L1826.3,237.5 L1830.3,265.3 L1834.4,237.5 L1838.5,252.1 L1842.6,232.5 L1846.7,270.2 L1850.8,241.3 L1854.9,253.0 L1859.0,241.1 L1863.1,252.4 L1867.2,238.4 L1871.3,262.5 L1875.4,225.0 L1879.5,263.7 L1883.6,237.9 L1887.7,256.1 L1891.7,239.4 L1895.8,270.6 L1899.9,228.5 L1904.0,257.2 L1908.1,236.6 L1912.2,260.8 L1916.3,224.6 L1920.4,266.9 L1924.5,242.8 L1928.6,257.9 L1932.7,224.4 L1936.8,261.5 L1940.9,228.7 L1945.0,250.6 L1949.0,226.1 L1953.1,256.7 L1957.2,234.9 L1961.3,259.2 L1965.4,229.9 L1969.5,263.5 L1973.6,221.6 L1977.7,266.1 L1981.8,222.1 L1985.9,261.0" stroke="#8080ff" stroke-width="1.1" stroke-dasharray="2.2 17.8"/>
<path d="M1173.8,664.8 L1182.6,680.2 L1185.3,664.8 L1187.5,652.7 L1189.2,635.2 L1190.3,623.1 L1191.4,611.0 L1193.6,593.4 L1194.7,581.3 L1196.3,569.2 L1200.2,552.7 L1206.8,547.8 L1210.1,551.1 L1214.5,557.1 L1218.8,538.5 L1221.0,525.8 L1224.3,513.7 L1228.5,496.6 L1234.8,487.6 L1243.3,481.8 L1248.6,488.1 L1251.8,497.7 L1257.6,502.9 L1257.9,502.2 L1265.2,504.9 L1269.8,523.3 L1273.1,541.8 L1276.4,524.6 L1279.7,555.0 L1284.3,524.6 L1286.9,540.5 L1290.2,523.3 L1290.9,539.2 L1293.5,498.3 L1295.5,481.1 L1300.1,456.1 L1302.8,470.6 L1305.4,494.3 L1310.0,511.5 L1312.0,535.2 L1317.3,544.4 L1322.5,520.7 L1323.9,536.5 L1325.8,498.3 L1327.2,477.2 L1328.5,445.5 L1329.8,452.1 L1332.4,395.4 L1334.4,408.6 L1339.7,407.9 L1341.0,425.7 L1342.3,437.6 L1345.0,450.8 L1346.9,467.9 L1350.2,490.4 L1350.2,506.2 L1352.9,477.2 L1355.5,465.3 L1358.2,464.0 L1363.4,456.1 L1367.4,456.1 L1368.7,445.5 L1372.7,427.0 L1375.3,442.9 L1376.6,471.9 L1380.6,485.1 L1384.5,478.5 L1387.2,466.6 L1388.5,442.9 L1389.8,424.4 L1395.1,404.6 L1403.0,419.1 L1404.3,421.8 L1407.0,435.0 L1408.3,444.2 L1413.5,461.3 L1417.5,458.7 L1420.1,445.5 L1421.5,429.7 L1424.1,399.4 L1426.7,419.1 L1432.0,432.3 L1436.0,431.0 L1438.6,416.5 L1441.2,399.4 L1442.6,386.2 L1443.9,373.0 L1447.8,378.2 L1451.8,386.2 L1454.4,394.1 L1457.1,405.9 L1461.0,395.4 L1463.7,388.8 L1466.3,378.2 L1429.5,432.4 L1436.8,415.7 L1442.0,386.5 L1443.1,373.9 L1448.3,380.2 L1453.5,392.7 L1461.9,388.5 L1472.3,379.1 L1480.6,386.5 L1486.9,378.1 L1489.0,365.6 L1491.1,390.6 L1494.2,413.6 L1501.5,419.9 L1503.6,390.6 L1506.7,378.1 L1514.1,359.3 L1522.4,380.2 L1525.5,394.8 L1530.8,378.1 L1537.0,373.9 L1546.4,401.1 L1548.5,384.4 L1551.6,373.9 L1558.9,378.1 L1561.0,386.5 L1568.3,370.8 L1571.5,359.3 L1575.6,336.3 L1578.8,351.0 L1582.9,367.7 L1587.1,386.5 L1591.3,361.4 L1594.4,340.5 L1595.5,323.8 L1601.7,346.8 L1605.9,363.5 L1612.2,346.8 L1616.3,323.8 L1620.5,309.2 L1628.9,302.9 L1641.4,298.8 L1648.7,297.7 L1651.8,286.2 L1659.1,274.8 L1662.3,277.9 L1668.5,282.1 L1679.0,271.6 L1670.0,282.3 L1681.2,275.9 L1698.8,267.1 L1710.0,263.9 L1722.8,262.3 L1738.8,264.7 L1750.0,268.7 L1762.8,273.5 L1778.8,279.9 L1791.6,282.3 L1810.8,283.9 L1820.4,282.3 L1832.3,278.3 L1844.3,273.5 L1861.9,267.9 L1873.1,266.3 L1885.9,263.1 L1901.9,265.5 L1913.1,270.3 L1925.9,274.3 L1941.9,280.7 L1954.7,283.9 L1967.5,283.9 L1983.5,279.1" stroke="#ff8000" stroke-width="3.34" stroke-dasharray="17.5 11.6 1.8 12"/>
<path d="M1173.8,664.8 L1182.6,680.2 L1185.3,664.8 L1187.5,652.7 L1189.2,635.2 L1190.3,623.1 L1191.4,611.0 L1193.6,593.4 L1194.7,581.3 L1196.3,569.2 L1200.2,552.7 L1206.8,547.8 L1210.1,551.1 L1214.5,557.1 L1218.8,538.5 L1221.0,525.8 L1224.3,513.7 L1228.5,496.6 L1234.8,487.6 L1243.3,481.8 L1248.6,488.1 L1251.8,497.7 L1257.6,502.9 L1257.9,502.2 L1265.2,504.9 L1269.8,523.3 L1273.1,541.8 L1276.4,524.6 L1279.7,555.0 L1284.3,524.6 L1286.9,540.5 L1290.2,523.3 L1290.9,539.2 L1293.5,498.3 L1295.5,481.1 L1300.1,456.1 L1302.8,470.6 L1305.4,494.3 L1310.0,511.5 L1312.0,535.2 L1317.3,544.4 L1322.5,520.7 L1323.9,536.5 L1325.8,498.3 L1327.2,477.2 L1328.5,445.5 L1329.8,452.1 L1332.4,395.4 L1334.4,408.6 L1339.7,407.9 L1341.0,425.7 L1342.3,437.6 L1345.0,450.8 L1346.9,467.9 L1350.2,490.4 L1350.2,506.2 L1352.9,477.2 L1355.5,465.3 L1358.2,464.0 L1363.4,456.1 L1367.4,456.1 L1368.7,445.5 L1372.7,427.0 L1375.3,442.9 L1376.6,471.9 L1380.6,485.1 L1384.5,478.5 L1387.2,466.6 L1388.5,442.9 L1389.8,424.4 L1395.1,404.6 L1403.0,419.1 L1404.3,421.8 L1407.0,435.0 L1408.3,444.2 L1413.5,461.3 L1417.5,458.7 L1420.1,445.5 L1421.5,429.7 L1424.1,399.4 L1426.7,419.1 L1432.0,432.3 L1436.0,431.0 L1438.6,416.5 L1441.2,399.4 L1442.6,386.2 L1443.9,373.0 L1447.8,378.2 L1451.8,386.2 L1454.4,394.1 L1457.1,405.9 L1461.0,395.4 L1463.7,388.8 L1466.3,378.2 L1429.5,432.4 L1436.8,415.7 L1442.0,386.5 L1443.1,373.9 L1448.3,380.2 L1453.5,392.7 L1461.9,388.5 L1472.3,379.1 L1480.6,386.5 L1486.9,378.1 L1489.0,365.6 L1491.1,390.6 L1494.2,413.6 L1501.5,419.9 L1503.6,390.6 L1506.7,378.1 L1514.1,359.3 L1522.4,380.2 L1525.5,394.8 L1530.8,378.1 L1537.0,373.9 L1546.4,401.1 L1548.5,384.4 L1551.6,373.9 L1558.9,378.1 L1561.0,386.5 L1568.3,370.8 L1571.5,359.3 L1575.6,336.3 L1578.8,351.0 L1582.9,367.7 L1587.1,386.5 L1591.3,361.4 L1594.4,340.5 L1595.5,323.8 L1601.7,346.8 L1605.9,363.5 L1612.2,346.8 L1616.3,323.8 L1620.5,309.2 L1628.9,302.9 L1641.4,298.8 L1648.7,297.7 L1651.8,286.2 L1659.1,274.8 L1662.3,277.9 L1668.5,282.1 L1679.0,271.6 L1670.0,282.3 L1681.2,275.9 L1698.8,267.1 L1710.0,263.9 L1722.8,262.3 L1738.8,264.7 L1750.0,268.7 L1762.8,273.5 L1778.8,279.9 L1791.6,282.3 L1810.8,283.9 L1820.4,282.3 L1832.3,278.3 L1844.3,273.5 L1861.9,267.9 L1873.1,266.3 L1885.9,263.1 L1901.9,265.5 L1913.1,270.3 L1925.9,274.3 L1941.9,280.7 L1954.7,283.9 L1967.5,283.9 L1983.5,279.1" stroke="#ffd0a0" stroke-width="1.1" stroke-dasharray="17.5 11.6 1.8 12"/>
<path d="M1173.5,422.5 L1185.1,413.5 L1195.2,413.0 L1206.3,405.6 L1208.9,394.0 L1211.6,380.2 L1213.7,368.6 L1223.2,369.1 L1231.7,365.4 L1234.8,366.5 L1238.5,373.9 L1243.3,383.4 L1244.9,397.1 L1246.5,407.7 L1248.6,420.4 L1249.6,428.4 L1254.4,414.1 L1256.5,403.5 L1258.1,389.7 L1258.6,378.1 L1260.2,365.4 L1261.8,364.9 L1268.2,358.0 L1273.5,370.7 L1276.6,382.3 L1283.5,392.9 L1288.8,404.5 L1290.9,418.3 L1293.6,429.9 L1298.3,424.6 L1300.4,412.0 L1302.6,399.3 L1306.3,388.7 L1315.2,378.1 L1318.4,366.5 L1323.7,353.8 L1331.1,350.6 L1337.5,362.2 L1344.9,354.8 L1352.3,361.2 L1358.6,368.6 L1363.9,355.9 L1368.2,361.2 L1371.3,373.9 L1372.9,385.5 L1375.6,395.0 L1374.2,394.8 L1378.4,380.2 L1381.5,363.5 L1383.6,351.0 L1385.7,330.1 L1390.9,334.3 L1395.1,353.0 L1397.1,319.6 L1399.2,298.8 L1407.6,288.3 L1415.9,280.0 L1425.3,261.2 L1429.5,261.2 L1438.9,267.5 L1447.2,265.4 L1456.6,254.9 L1459.8,261.2 L1468.1,250.8 L1473.3,236.1 L1479.6,222.6 L1485.9,228.8 L1493.2,232.0 L1496.3,245.5 L1503.6,242.4 L1514.1,233.0 L1517.2,248.7 L1525.5,240.3 L1531.8,232.0 L1539.1,219.4 L1545.4,206.9 L1549.5,192.3 L1552.7,177.7 L1556.8,161.0 L1562.1,146.4 L1566.2,138.0 L1573.5,123.4 L1582.9,118.2 L1599.6,117.1 L1620.5,117.1 L1641.4,117.8 L1670.6,117.8 L1700.0,117.6 L1760.0,117.2 L1820.0,117.8 L1880.0,117.3 L1940.0,117.6 L1988.0,117.4" stroke="#ff0a0a" stroke-width="3.34" stroke-dasharray="12.9 11 2.2 11 2.6 11.5"/>
<path d="M1173.5,422.5 L1185.1,413.5 L1195.2,413.0 L1206.3,405.6 L1208.9,394.0 L1211.6,380.2 L1213.7,368.6 L1223.2,369.1 L1231.7,365.4 L1234.8,366.5 L1238.5,373.9 L1243.3,383.4 L1244.9,397.1 L1246.5,407.7 L1248.6,420.4 L1249.6,428.4 L1254.4,414.1 L1256.5,403.5 L1258.1,389.7 L1258.6,378.1 L1260.2,365.4 L1261.8,364.9 L1268.2,358.0 L1273.5,370.7 L1276.6,382.3 L1283.5,392.9 L1288.8,404.5 L1290.9,418.3 L1293.6,429.9 L1298.3,424.6 L1300.4,412.0 L1302.6,399.3 L1306.3,388.7 L1315.2,378.1 L1318.4,366.5 L1323.7,353.8 L1331.1,350.6 L1337.5,362.2 L1344.9,354.8 L1352.3,361.2 L1358.6,368.6 L1363.9,355.9 L1368.2,361.2 L1371.3,373.9 L1372.9,385.5 L1375.6,395.0 L1374.2,394.8 L1378.4,380.2 L1381.5,363.5 L1383.6,351.0 L1385.7,330.1 L1390.9,334.3 L1395.1,353.0 L1397.1,319.6 L1399.2,298.8 L1407.6,288.3 L1415.9,280.0 L1425.3,261.2 L1429.5,261.2 L1438.9,267.5 L1447.2,265.4 L1456.6,254.9 L1459.8,261.2 L1468.1,250.8 L1473.3,236.1 L1479.6,222.6 L1485.9,228.8 L1493.2,232.0 L1496.3,245.5 L1503.6,242.4 L1514.1,233.0 L1517.2,248.7 L1525.5,240.3 L1531.8,232.0 L1539.1,219.4 L1545.4,206.9 L1549.5,192.3 L1552.7,177.7 L1556.8,161.0 L1562.1,146.4 L1566.2,138.0 L1573.5,123.4 L1582.9,118.2 L1599.6,117.1 L1620.5,117.1 L1641.4,117.8 L1670.6,117.8 L1700.0,117.6 L1760.0,117.2 L1820.0,117.8 L1880.0,117.3 L1940.0,117.6 L1988.0,117.4" stroke="#ff8080" stroke-width="1.1" stroke-dasharray="12.9 11 2.2 11 2.6 11.5"/>
</g>
<rect x="1580.2" y="479.5" width="408.4" height="237.0" fill="#fff" stroke="#555" stroke-width="1.2"/>
<line x1="1586.1" y1="504.9" x2="1668.8" y2="504.9" stroke="#000000" stroke-width="3.4" stroke-linecap="round"/>
<text x="1679.0" y="517.6" font-size="37.5">ResNet34</text>
<line x1="1586.1" y1="551.4" x2="1668.8" y2="551.4" stroke="#00ff1e" stroke-width="3.4" stroke-linecap="round" stroke-dasharray="14.3 19.4"/>
<text x="1679.0" y="564.1" font-size="37.5">ResNet50</text>
<line x1="1586.1" y1="597.9" x2="1668.8" y2="597.9" stroke="#0000ff" stroke-width="3.4" stroke-linecap="round" stroke-dasharray="2.2 17.8"/>
<text x="1679.0" y="610.6" font-size="37.5">VGG16</text>
<line x1="1586.1" y1="644.4" x2="1668.8" y2="644.4" stroke="#ff8000" stroke-width="3.4" stroke-linecap="round" stroke-dasharray="17.5 11.6 1.8 12"/>
<text x="1679.0" y="657.1" font-size="37.5">MobileNetV2</text>
<line x1="1586.1" y1="690.9" x2="1668.8" y2="690.9" stroke="#ff0a0a" stroke-width="3.4" stroke-linecap="round" stroke-dasharray="12.9 11 2.2 11 2.6 11.5"/>
<text x="1679.0" y="703.6" font-size="37.5">QY-SE-MResNet34</text>
<g fill="#000">
<rect x="1168.45" y="73.10" width="2.7" height="660.00"/>
<rect x="1991.25" y="73.10" width="2.7" height="660.00"/>
<rect x="1168.45" y="73.10" width="825.50" height="2.2"/>
<rect x="1168.45" y="730.90" width="825.50" height="2.2"/>
<rect x="1373.20" y="719.00" width="2.5" height="13"/>
<rect x="1577.85" y="719.00" width="2.5" height="13"/>
<rect x="1782.50" y="719.00" width="2.5" height="13"/>
<rect x="1987.15" y="719.00" width="2.5" height="13"/>
<rect x="1169.80" y="657.19" width="13.3" height="2.5"/>
<rect x="1169.80" y="511.13" width="13.3" height="2.5"/>
<rect x="1169.80" y="365.07" width="13.3" height="2.5"/>
<rect x="1169.80" y="219.01" width="13.3" height="2.5"/>
</g>
<text x="1169.8" y="775.2" font-size="37.5" text-anchor="middle">0</text>
<text x="1374.5" y="775.2" font-size="37.5" text-anchor="middle">50</text>
<text x="1579.1" y="775.2" font-size="37.5" text-anchor="middle">100</text>
<text x="1783.8" y="775.2" font-size="37.5" text-anchor="middle">150</text>
<text x="1988.4" y="775.2" font-size="37.5" text-anchor="middle">200</text>
<text x="1155.2" y="669.9" font-size="37.5" text-anchor="end">0.2</text>
<text x="1155.2" y="523.9" font-size="37.5" text-anchor="end">0.4</text>
<text x="1155.2" y="377.8" font-size="37.5" text-anchor="end">0.6</text>
<text x="1155.2" y="231.8" font-size="37.5" text-anchor="end">0.8</text>
<text x="1155.2" y="85.7" font-size="37.5" text-anchor="end">1.0</text>
<text x="1581.2" y="834.7" font-size="37.5" text-anchor="middle">epotch</text>
<text transform="translate(1093.8,403.1) rotate(-90)" x="0" y="0" font-size="37.5" text-anchor="middle">val_acc</text>
<text x="1581.2" y="49.4" font-size="37.5" text-anchor="middle">Comparison chart of validation accuracy</text>
<clipPath id="c3"><rect x="125.4" y="1030.0" width="823.0" height="658.5999999999999"/></clipPath>
<g clip-path="url(#c3)" fill="none" stroke-width="3.4" stroke-linejoin="round" stroke-linecap="round">
<path d="M128.8,1088.0 L130.1,1098.7 L131.7,1113.8 L134.2,1142.3 L135.9,1167.4 L137.6,1192.6 L139.3,1214.3 L141.8,1231.1 L146.8,1247.9 L153.5,1257.9 L159.4,1264.6 L162.7,1273.0 L166.9,1283.0 L170.3,1279.7 L173.6,1291.4 L177.0,1293.1 L182.8,1294.8 L187.0,1303.2 L193.7,1304.0 L198.8,1308.2 L203.8,1314.9 L208.8,1316.6 L215.5,1316.6 L218.9,1323.3 L223.9,1322.4 L231.7,1329.4 L240.9,1342.8 L251.8,1330.2 L256.8,1333.6 L261.0,1332.8 L270.2,1352.0 L276.9,1343.6 L281.9,1355.3 L292.0,1357.0 L297.8,1361.2 L302.0,1357.0 L308.7,1361.2 L317.1,1357.0 L322.1,1370.4 L333.8,1374.6 L342.2,1369.6 L350.5,1380.4 L353.9,1378.8 L358.9,1386.3 L363.9,1380.4 L370.6,1377.1 L377.3,1388.8 L382.3,1393.0 L387.3,1391.3 L392.4,1396.3 L396.5,1393.0 L404.1,1398.8 L409.1,1393.0 L420.8,1403.9 L427.5,1408.1 L432.5,1403.9 L436.7,1421.4 L444.2,1413.9 L450.1,1426.5 L457.6,1427.3 L465.2,1436.8 L469.2,1430.4 L473.1,1439.8 L477.1,1433.8 L481.5,1444.2 L485.5,1435.8 L489.4,1443.7 L493.9,1441.3 L497.8,1454.1 L502.3,1441.8 L506.2,1445.7 L510.2,1457.6 L514.2,1455.6 L518.6,1463.5 L522.1,1465.0 L526.5,1459.5 L530.5,1468.9 L542.8,1475.4 L547.3,1472.9 L551.2,1482.3 L555.2,1481.3 L559.1,1470.4 L563.1,1492.7 L572.0,1487.2 L579.4,1492.2 L551.4,1482.1 L555.7,1480.7 L559.3,1470.7 L563.6,1492.1 L572.1,1487.1 L581.4,1493.6 L587.9,1504.3 L592.1,1496.4 L596.4,1505.0 L600.7,1503.6 L604.3,1518.6 L608.6,1510.0 L616.4,1512.9 L620.7,1504.3 L625.0,1517.9 L629.3,1511.4 L633.6,1524.3 L641.4,1501.4 L645.7,1515.7 L649.3,1507.1 L653.6,1527.1 L662.1,1505.7 L665.7,1521.4 L674.3,1508.6 L678.6,1525.7 L682.9,1502.9 L687.1,1520.0 L690.0,1510.7 L694.3,1528.6 L702.9,1507.1 L706.4,1522.9 L715.0,1506.4 L719.3,1525.0 L727.1,1507.9 L731.4,1521.4 L739.3,1510.7 L743.6,1527.1 L751.4,1502.9 L755.7,1520.7 L750.0,1504.3 L755.7,1520.7 L763.6,1509.3 L767.9,1525.7 L776.4,1506.4 L780.7,1522.1 L788.6,1505.7 L792.9,1523.6 L800.7,1507.1 L805.0,1520.7 L812.9,1510.7 L817.1,1527.1 L825.7,1503.6 L829.3,1521.4 L837.1,1508.6 L841.4,1525.7 L850.0,1505.7 L854.3,1523.6 L862.1,1504.3 L866.4,1525.0 L874.3,1507.1 L878.6,1520.7 L885.7,1510.7 L890.7,1527.9 L899.3,1503.6 L902.9,1522.1 L911.4,1508.6 L915.0,1525.7 L923.6,1505.7 L927.1,1524.3 L935.7,1505.0 L940.7,1523.6 L944.3,1517.9" stroke="#000000" stroke-width="3.57"/>
<path d="M128.6,1060.0 L129.2,1083.6 L130.1,1095.4 L131.7,1125.5 L132.6,1150.7 L133.4,1164.1 L134.2,1184.2 L135.9,1199.3 L138.4,1217.7 L140.1,1231.1 L141.8,1251.2 L144.3,1264.6 L152.7,1279.7 L158.5,1291.4 L171.9,1303.2 L177.8,1308.2 L190.4,1318.2 L198.8,1323.3 L223.3,1323.5 L230.0,1331.9 L236.7,1334.4 L245.1,1333.6 L248.4,1341.1 L251.8,1336.9 L259.3,1336.9 L265.2,1345.3 L277.7,1343.6 L283.6,1352.0 L296.1,1350.3 L307.0,1357.0 L312.0,1363.7 L313.7,1370.4 L320.4,1357.0 L328.8,1367.9 L340.5,1372.1 L346.3,1362.0 L352.2,1372.1 L354.7,1357.0 L362.2,1377.1 L371.4,1372.1 L374.8,1347.0 L376.5,1357.0 L381.5,1374.6 L389.0,1387.1 L395.7,1377.1 L399.9,1388.8 L408.3,1393.8 L414.1,1383.8 L422.5,1393.8 L432.5,1402.2 L440.9,1398.8 L444.2,1407.2 L448.4,1403.9 L462.6,1407.2 L466.0,1403.9 L469.3,1413.9 L479.4,1417.3 L487.7,1423.9 L501.1,1427.3 L512.8,1429.0 L531.2,1439.0 L543.0,1447.4 L559.7,1454.1 L558.6,1452.9 L570.0,1462.1 L585.7,1470.7 L600.7,1479.3 L616.0,1489.9 L620.1,1478.9 L624.2,1491.8 L628.3,1473.1 L632.4,1493.5 L636.5,1474.6 L640.6,1490.1 L644.7,1476.4 L648.7,1496.4 L652.8,1476.3 L656.9,1497.3 L661.0,1473.3 L665.1,1492.4 L669.2,1480.7 L673.3,1495.7 L677.4,1479.7 L681.5,1489.3 L685.6,1474.5 L689.7,1496.4 L693.8,1473.6 L697.9,1497.4 L702.0,1479.0 L706.0,1489.9 L710.1,1479.7 L714.2,1497.6 L718.3,1479.8 L722.4,1490.6 L726.5,1480.6 L730.6,1489.7 L734.7,1480.4 L738.8,1492.3 L742.9,1479.4 L747.0,1491.9 L751.1,1472.9 L755.2,1490.7 L759.3,1473.8 L763.3,1495.5 L767.4,1475.9 L771.5,1494.1 L775.6,1474.2 L779.7,1494.2 L783.8,1478.8 L787.9,1492.1 L792.0,1478.7 L796.1,1492.7 L800.2,1472.4 L804.3,1492.9 L808.4,1480.2 L812.5,1493.3 L816.6,1473.8 L820.6,1493.0 L824.7,1474.8 L828.8,1490.0 L832.9,1480.2 L837.0,1494.9 L841.1,1480.3 L845.2,1491.8 L849.3,1477.5 L853.4,1490.9 L857.5,1480.4 L861.6,1489.3 L865.7,1472.7 L869.8,1495.1 L873.9,1472.7 L878.0,1493.4 L882.0,1472.6 L886.1,1496.6 L890.2,1475.5 L894.3,1493.7 L898.4,1476.4 L902.5,1491.2 L906.6,1477.6 L910.7,1495.4 L914.8,1479.1 L918.9,1496.5 L923.0,1476.4 L927.1,1494.4 L931.2,1473.8 L935.3,1494.7 L939.3,1479.6 L943.4,1491.4" stroke="#00ff1e" stroke-width="3.57" stroke-dasharray="14.3 19.4"/>
<path d="M128.6,1060.0 L129.2,1083.6 L130.1,1095.4 L131.7,1125.5 L132.6,1150.7 L133.4,1164.1 L134.2,1184.2 L135.9,1199.3 L138.4,1217.7 L140.1,1231.1 L141.8,1251.2 L144.3,1264.6 L152.7,1279.7 L158.5,1291.4 L171.9,1303.2 L177.8,1308.2 L190.4,1318.2 L198.8,1323.3 L223.3,1323.5 L230.0,1331.9 L236.7,1334.4 L245.1,1333.6 L248.4,1341.1 L251.8,1336.9 L259.3,1336.9 L265.2,1345.3 L277.7,1343.6 L283.6,1352.0 L296.1,1350.3 L307.0,1357.0 L312.0,1363.7 L313.7,1370.4 L320.4,1357.0 L328.8,1367.9 L340.5,1372.1 L346.3,1362.0 L352.2,1372.1 L354.7,1357.0 L362.2,1377.1 L371.4,1372.1 L374.8,1347.0 L376.5,1357.0 L381.5,1374.6 L389.0,1387.1 L395.7,1377.1 L399.9,1388.8 L408.3,1393.8 L414.1,1383.8 L422.5,1393.8 L432.5,1402.2 L440.9,1398.8 L444.2,1407.2 L448.4,1403.9 L462.6,1407.2 L466.0,1403.9 L469.3,1413.9 L479.4,1417.3 L487.7,1423.9 L501.1,1427.3 L512.8,1429.0 L531.2,1439.0 L543.0,1447.4 L559.7,1454.1 L558.6,1452.9 L570.0,1462.1 L585.7,1470.7 L600.7,1479.3 L616.0,1489.9 L620.1,1478.9 L624.2,1491.8 L628.3,1473.1 L632.4,1493.5 L636.5,1474.6 L640.6,1490.1 L644.7,1476.4 L648.7,1496.4 L652.8,1476.3 L656.9,1497.3 L661.0,1473.3 L665.1,1492.4 L669.2,1480.7 L673.3,1495.7 L677.4,1479.7 L681.5,1489.3 L685.6,1474.5 L689.7,1496.4 L693.8,1473.6 L697.9,1497.4 L702.0,1479.0 L706.0,1489.9 L710.1,1479.7 L714.2,1497.6 L718.3,1479.8 L722.4,1490.6 L726.5,1480.6 L730.6,1489.7 L734.7,1480.4 L738.8,1492.3 L742.9,1479.4 L747.0,1491.9 L751.1,1472.9 L755.2,1490.7 L759.3,1473.8 L763.3,1495.5 L767.4,1475.9 L771.5,1494.1 L775.6,1474.2 L779.7,1494.2 L783.8,1478.8 L787.9,1492.1 L792.0,1478.7 L796.1,1492.7 L800.2,1472.4 L804.3,1492.9 L808.4,1480.2 L812.5,1493.3 L816.6,1473.8 L820.6,1493.0 L824.7,1474.8 L828.8,1490.0 L832.9,1480.2 L837.0,1494.9 L841.1,1480.3 L845.2,1491.8 L849.3,1477.5 L853.4,1490.9 L857.5,1480.4 L861.6,1489.3 L865.7,1472.7 L869.8,1495.1 L873.9,1472.7 L878.0,1493.4 L882.0,1472.6 L886.1,1496.6 L890.2,1475.5 L894.3,1493.7 L898.4,1476.4 L902.5,1491.2 L906.6,1477.6 L910.7,1495.4 L914.8,1479.1 L918.9,1496.5 L923.0,1476.4 L927.1,1494.4 L931.2,1473.8 L935.3,1494.7 L939.3,1479.6 L943.4,1491.4" stroke="#9dffc8" stroke-width="1.1" stroke-dasharray="14.3 19.4"/>
<path d="M129.2,1088.7 L130.1,1100.4 L133.4,1118.8 L145.1,1122.2 L166.9,1122.2 L177.0,1125.5 L179.5,1133.9 L181.2,1154.0 L182.8,1174.1 L184.5,1194.2 L186.2,1214.3 L187.9,1234.5 L192.1,1252.9 L198.8,1268.8 L203.8,1286.4 L215.5,1299.8 L226.4,1304.0 L239.0,1317.4 L254.0,1324.9 L254.3,1324.4 L265.2,1334.4 L281.1,1336.1 L296.1,1336.9 L303.7,1344.5 L315.4,1351.2 L328.8,1353.7 L341.3,1354.5 L353.0,1357.9 L365.6,1363.7 L379.8,1366.2 L391.5,1377.1 L405.7,1378.8 L417.5,1377.1 L424.1,1387.1 L440.9,1386.3 L452.6,1384.6 L457.6,1398.8 L469.3,1402.2 L476.9,1405.5 L491.9,1408.1 L504.5,1414.7 L508.7,1417.3 L521.2,1417.3 L531.2,1427.3 L544.6,1430.6 L554.7,1429.0 L545.7,1431.4 L555.0,1429.3 L565.0,1437.9 L570.0,1439.3 L575.0,1431.4 L582.1,1440.7 L590.7,1456.4 L600.0,1453.6 L609.0,1463.2 L613.1,1457.0 L617.2,1466.2 L621.3,1452.6 L625.4,1464.2 L629.5,1457.0 L633.6,1464.9 L637.7,1452.0 L641.7,1464.2 L645.8,1452.1 L649.9,1468.3 L654.0,1456.8 L658.1,1467.3 L662.2,1454.4 L666.3,1466.3 L670.4,1450.1 L674.5,1463.8 L678.6,1457.7 L682.7,1470.4 L686.8,1454.8 L690.9,1464.6 L695.0,1455.3 L699.0,1465.9 L703.1,1450.5 L707.2,1464.7 L711.3,1456.2 L715.4,1467.7 L719.5,1453.6 L723.6,1470.5 L727.7,1451.4 L731.8,1465.9 L735.9,1456.3 L740.0,1469.6 L744.1,1450.2 L748.2,1463.3 L752.3,1452.2 L756.3,1469.9 L760.4,1452.8 L764.5,1464.8 L768.6,1451.7 L772.7,1468.8 L776.8,1456.4 L780.9,1468.1 L785.0,1456.2 L789.1,1463.4 L793.2,1455.3 L797.3,1465.7 L801.4,1454.8 L805.5,1468.1 L809.6,1451.4 L813.6,1470.6 L817.7,1450.3 L821.8,1470.8 L825.9,1451.7 L830.0,1465.5 L834.1,1456.5 L838.2,1468.0 L842.3,1453.6 L846.4,1468.4 L850.5,1457.2 L854.6,1464.6 L858.7,1450.7 L862.8,1467.8 L866.9,1452.5 L871.0,1463.8 L875.0,1454.8 L879.1,1470.2 L883.2,1452.8 L887.3,1470.8 L891.4,1456.4 L895.5,1466.6 L899.6,1451.7 L903.7,1466.6 L907.8,1451.7 L911.9,1467.5 L916.0,1457.0 L920.1,1463.9 L924.2,1450.2 L928.3,1464.0 L932.3,1456.4 L936.4,1465.7 L940.5,1452.3" stroke="#0000ff" stroke-width="3.40" stroke-dasharray="2.2 17.8"/>
<path d="M129.2,1088.7 L130.1,1100.4 L133.4,1118.8 L145.1,1122.2 L166.9,1122.2 L177.0,1125.5 L179.5,1133.9 L181.2,1154.0 L182.8,1174.1 L184.5,1194.2 L186.2,1214.3 L187.9,1234.5 L192.1,1252.9 L198.8,1268.8 L203.8,1286.4 L215.5,1299.8 L226.4,1304.0 L239.0,1317.4 L254.0,1324.9 L254.3,1324.4 L265.2,1334.4 L281.1,1336.1 L296.1,1336.9 L303.7,1344.5 L315.4,1351.2 L328.8,1353.7 L341.3,1354.5 L353.0,1357.9 L365.6,1363.7 L379.8,1366.2 L391.5,1377.1 L405.7,1378.8 L417.5,1377.1 L424.1,1387.1 L440.9,1386.3 L452.6,1384.6 L457.6,1398.8 L469.3,1402.2 L476.9,1405.5 L491.9,1408.1 L504.5,1414.7 L508.7,1417.3 L521.2,1417.3 L531.2,1427.3 L544.6,1430.6 L554.7,1429.0 L545.7,1431.4 L555.0,1429.3 L565.0,1437.9 L570.0,1439.3 L575.0,1431.4 L582.1,1440.7 L590.7,1456.4 L600.0,1453.6 L609.0,1463.2 L613.1,1457.0 L617.2,1466.2 L621.3,1452.6 L625.4,1464.2 L629.5,1457.0 L633.6,1464.9 L637.7,1452.0 L641.7,1464.2 L645.8,1452.1 L649.9,1468.3 L654.0,1456.8 L658.1,1467.3 L662.2,1454.4 L666.3,1466.3 L670.4,1450.1 L674.5,1463.8 L678.6,1457.7 L682.7,1470.4 L686.8,1454.8 L690.9,1464.6 L695.0,1455.3 L699.0,1465.9 L703.1,1450.5 L707.2,1464.7 L711.3,1456.2 L715.4,1467.7 L719.5,1453.6 L723.6,1470.5 L727.7,1451.4 L731.8,1465.9 L735.9,1456.3 L740.0,1469.6 L744.1,1450.2 L748.2,1463.3 L752.3,1452.2 L756.3,1469.9 L760.4,1452.8 L764.5,1464.8 L768.6,1451.7 L772.7,1468.8 L776.8,1456.4 L780.9,1468.1 L785.0,1456.2 L789.1,1463.4 L793.2,1455.3 L797.3,1465.7 L801.4,1454.8 L805.5,1468.1 L809.6,1451.4 L813.6,1470.6 L817.7,1450.3 L821.8,1470.8 L825.9,1451.7 L830.0,1465.5 L834.1,1456.5 L838.2,1468.0 L842.3,1453.6 L846.4,1468.4 L850.5,1457.2 L854.6,1464.6 L858.7,1450.7 L862.8,1467.8 L866.9,1452.5 L871.0,1463.8 L875.0,1454.8 L879.1,1470.2 L883.2,1452.8 L887.3,1470.8 L891.4,1456.4 L895.5,1466.6 L899.6,1451.7 L903.7,1466.6 L907.8,1451.7 L911.9,1467.5 L916.0,1457.0 L920.1,1463.9 L924.2,1450.2 L928.3,1464.0 L932.3,1456.4 L936.4,1465.7 L940.5,1452.3" stroke="#8080ff" stroke-width="1.1" stroke-dasharray="2.2 17.8"/>
<path d="M129.5,1020.0 L130.1,1031.7 L131.7,1085.3 L132.6,1098.7 L133.4,1112.1 L135.9,1118.8 L140.1,1121.3 L153.5,1122.2 L170.3,1123.0 L184.5,1123.0 L197.1,1122.2 L203.8,1128.9 L207.1,1145.6 L210.5,1167.4 L212.2,1187.5 L213.8,1200.9 L217.2,1226.1 L222.2,1242.8 L228.9,1256.2 L232.3,1269.6 L239.0,1278.0 L247.3,1281.4 L252.4,1289.7 L262.4,1296.4 L272.5,1303.2 L279.2,1309.9 L287.6,1310.7 L295.9,1316.6 L302.6,1322.4 L309.3,1316.6 L314.4,1324.9 L321.1,1324.9 L302.0,1326.1 L306.2,1318.5 L311.2,1315.2 L317.1,1323.5 L324.6,1324.4 L332.1,1327.7 L335.5,1334.4 L340.5,1329.4 L350.5,1332.8 L358.9,1335.3 L363.9,1340.3 L370.6,1336.1 L375.6,1347.0 L379.0,1347.0 L387.3,1348.6 L392.4,1342.8 L399.0,1348.6 L409.1,1350.3 L415.8,1352.0 L420.0,1347.0 L424.1,1352.8 L434.2,1350.3 L444.2,1351.2 L449.3,1365.4 L455.9,1366.2 L466.0,1363.7 L476.0,1368.7 L479.4,1364.5 L486.1,1374.6 L494.4,1369.6 L502.8,1377.1 L511.2,1383.8 L517.9,1372.1 L522.9,1387.1 L526.2,1373.7 L531.2,1387.1 L534.6,1390.5 L544.6,1383.8 L551.3,1383.8 L550.0,1381.4 L558.6,1392.9 L567.9,1394.3 L575.7,1387.9 L583.6,1402.9 L591.4,1394.3 L600.0,1396.4 L604.0,1406.5 L608.1,1394.1 L612.2,1408.1 L616.3,1396.5 L620.4,1407.0 L624.5,1392.4 L628.6,1408.7 L632.7,1397.1 L636.7,1407.0 L640.8,1394.2 L644.9,1406.0 L649.0,1391.9 L653.1,1406.2 L657.2,1395.4 L661.3,1408.9 L665.4,1394.1 L669.5,1404.7 L673.6,1396.3 L677.7,1406.0 L681.8,1398.0 L685.9,1406.7 L690.0,1393.4 L694.0,1405.5 L698.1,1392.7 L702.2,1408.8 L706.3,1394.6 L710.4,1407.2 L714.5,1397.5 L718.6,1403.1 L722.7,1391.8 L726.8,1404.6 L730.9,1396.9 L735.0,1408.6 L739.1,1393.4 L743.2,1403.5 L747.3,1396.2 L751.3,1404.3 L755.4,1396.5 L759.5,1402.7 L763.6,1394.8 L767.7,1404.7 L771.8,1395.7 L775.9,1403.9 L780.0,1397.6 L784.1,1402.9 L788.2,1392.5 L792.3,1407.6 L796.4,1394.6 L800.5,1403.5 L804.6,1397.3 L808.6,1403.5 L812.7,1396.2 L816.8,1403.1 L820.9,1396.5 L825.0,1404.0 L829.1,1397.0 L833.2,1407.0 L837.3,1395.3 L841.4,1405.8 L845.5,1395.9 L849.6,1406.3 L853.7,1393.1 L857.8,1404.7 L861.9,1397.8 L866.0,1405.9 L870.0,1395.8 L874.1,1407.9 L878.2,1397.6 L882.3,1408.5 L886.4,1398.2 L890.5,1406.3 L894.6,1395.4 L898.7,1404.8 L902.8,1392.4 L906.9,1407.3 L911.0,1397.2 L915.1,1406.0 L919.2,1394.3 L923.3,1402.9 L927.3,1397.7 L931.4,1406.7 L935.5,1393.5 L939.6,1405.8 L943.7,1395.5" stroke="#ff8000" stroke-width="3.23" stroke-dasharray="17.5 11.6 1.8 12"/>
<path d="M129.5,1020.0 L130.1,1031.7 L131.7,1085.3 L132.6,1098.7 L133.4,1112.1 L135.9,1118.8 L140.1,1121.3 L153.5,1122.2 L170.3,1123.0 L184.5,1123.0 L197.1,1122.2 L203.8,1128.9 L207.1,1145.6 L210.5,1167.4 L212.2,1187.5 L213.8,1200.9 L217.2,1226.1 L222.2,1242.8 L228.9,1256.2 L232.3,1269.6 L239.0,1278.0 L247.3,1281.4 L252.4,1289.7 L262.4,1296.4 L272.5,1303.2 L279.2,1309.9 L287.6,1310.7 L295.9,1316.6 L302.6,1322.4 L309.3,1316.6 L314.4,1324.9 L321.1,1324.9 L302.0,1326.1 L306.2,1318.5 L311.2,1315.2 L317.1,1323.5 L324.6,1324.4 L332.1,1327.7 L335.5,1334.4 L340.5,1329.4 L350.5,1332.8 L358.9,1335.3 L363.9,1340.3 L370.6,1336.1 L375.6,1347.0 L379.0,1347.0 L387.3,1348.6 L392.4,1342.8 L399.0,1348.6 L409.1,1350.3 L415.8,1352.0 L420.0,1347.0 L424.1,1352.8 L434.2,1350.3 L444.2,1351.2 L449.3,1365.4 L455.9,1366.2 L466.0,1363.7 L476.0,1368.7 L479.4,1364.5 L486.1,1374.6 L494.4,1369.6 L502.8,1377.1 L511.2,1383.8 L517.9,1372.1 L522.9,1387.1 L526.2,1373.7 L531.2,1387.1 L534.6,1390.5 L544.6,1383.8 L551.3,1383.8 L550.0,1381.4 L558.6,1392.9 L567.9,1394.3 L575.7,1387.9 L583.6,1402.9 L591.4,1394.3 L600.0,1396.4 L604.0,1406.5 L608.1,1394.1 L612.2,1408.1 L616.3,1396.5 L620.4,1407.0 L624.5,1392.4 L628.6,1408.7 L632.7,1397.1 L636.7,1407.0 L640.8,1394.2 L644.9,1406.0 L649.0,1391.9 L653.1,1406.2 L657.2,1395.4 L661.3,1408.9 L665.4,1394.1 L669.5,1404.7 L673.6,1396.3 L677.7,1406.0 L681.8,1398.0 L685.9,1406.7 L690.0,1393.4 L694.0,1405.5 L698.1,1392.7 L702.2,1408.8 L706.3,1394.6 L710.4,1407.2 L714.5,1397.5 L718.6,1403.1 L722.7,1391.8 L726.8,1404.6 L730.9,1396.9 L735.0,1408.6 L739.1,1393.4 L743.2,1403.5 L747.3,1396.2 L751.3,1404.3 L755.4,1396.5 L759.5,1402.7 L763.6,1394.8 L767.7,1404.7 L771.8,1395.7 L775.9,1403.9 L780.0,1397.6 L784.1,1402.9 L788.2,1392.5 L792.3,1407.6 L796.4,1394.6 L800.5,1403.5 L804.6,1397.3 L808.6,1403.5 L812.7,1396.2 L816.8,1403.1 L820.9,1396.5 L825.0,1404.0 L829.1,1397.0 L833.2,1407.0 L837.3,1395.3 L841.4,1405.8 L845.5,1395.9 L849.6,1406.3 L853.7,1393.1 L857.8,1404.7 L861.9,1397.8 L866.0,1405.9 L870.0,1395.8 L874.1,1407.9 L878.2,1397.6 L882.3,1408.5 L886.4,1398.2 L890.5,1406.3 L894.6,1395.4 L898.7,1404.8 L902.8,1392.4 L906.9,1407.3 L911.0,1397.2 L915.1,1406.0 L919.2,1394.3 L923.3,1402.9 L927.3,1397.7 L931.4,1406.7 L935.5,1393.5 L939.6,1405.8 L943.7,1395.5" stroke="#ffd0a0" stroke-width="1.1" stroke-dasharray="17.5 11.6 1.8 12"/>
<path d="M128.8,1100.0 L129.2,1110.5 L131.7,1118.8 L136.8,1133.9 L142.6,1147.3 L149.3,1157.4 L153.5,1169.1 L154.9,1182.5 L155.5,1195.9 L156.9,1214.3 L157.7,1232.8 L159.4,1246.2 L161.1,1259.6 L163.6,1269.6 L170.3,1279.7 L173.6,1291.4 L177.8,1296.4 L182.8,1303.2 L188.7,1308.2 L195.4,1311.5 L202.1,1316.6 L220.0,1333.6 L230.0,1336.9 L240.1,1342.0 L245.1,1350.3 L256.0,1347.0 L260.2,1358.7 L265.2,1348.6 L273.5,1358.7 L283.6,1357.9 L295.3,1362.0 L302.0,1373.7 L307.0,1363.7 L317.1,1378.8 L323.7,1380.4 L328.8,1385.5 L333.8,1387.1 L338.8,1398.8 L347.2,1388.8 L353.9,1395.5 L361.4,1403.9 L366.4,1393.8 L370.6,1410.6 L380.6,1412.2 L385.7,1403.9 L392.4,1417.3 L395.7,1425.6 L400.7,1415.6 L407.4,1424.8 L415.8,1430.6 L422.5,1437.3 L432.5,1440.7 L437.5,1450.7 L447.6,1459.1 L449.4,1463.5 L452.9,1457.6 L459.8,1459.5 L466.7,1463.5 L470.7,1461.5 L474.6,1466.5 L479.1,1472.4 L481.5,1484.3 L486.0,1495.1 L493.4,1506.5 L498.3,1496.1 L503.3,1497.1 L508.7,1509.5 L511.7,1519.9 L514.2,1533.2 L517.6,1544.6 L524.0,1556.4 L529.0,1568.3 L532.9,1580.2 L539.9,1585.1 L551.7,1583.6 L563.6,1584.1 L576.4,1584.1 L620.0,1584.5 L680.0,1584.0 L740.0,1584.6 L800.0,1584.1 L860.0,1584.5 L920.0,1584.0 L944.3,1584.3" stroke="#ff0a0a" stroke-width="3.23" stroke-dasharray="12.9 11 2.2 11 2.6 11.5"/>
<path d="M128.8,1100.0 L129.2,1110.5 L131.7,1118.8 L136.8,1133.9 L142.6,1147.3 L149.3,1157.4 L153.5,1169.1 L154.9,1182.5 L155.5,1195.9 L156.9,1214.3 L157.7,1232.8 L159.4,1246.2 L161.1,1259.6 L163.6,1269.6 L170.3,1279.7 L173.6,1291.4 L177.8,1296.4 L182.8,1303.2 L188.7,1308.2 L195.4,1311.5 L202.1,1316.6 L220.0,1333.6 L230.0,1336.9 L240.1,1342.0 L245.1,1350.3 L256.0,1347.0 L260.2,1358.7 L265.2,1348.6 L273.5,1358.7 L283.6,1357.9 L295.3,1362.0 L302.0,1373.7 L307.0,1363.7 L317.1,1378.8 L323.7,1380.4 L328.8,1385.5 L333.8,1387.1 L338.8,1398.8 L347.2,1388.8 L353.9,1395.5 L361.4,1403.9 L366.4,1393.8 L370.6,1410.6 L380.6,1412.2 L385.7,1403.9 L392.4,1417.3 L395.7,1425.6 L400.7,1415.6 L407.4,1424.8 L415.8,1430.6 L422.5,1437.3 L432.5,1440.7 L437.5,1450.7 L447.6,1459.1 L449.4,1463.5 L452.9,1457.6 L459.8,1459.5 L466.7,1463.5 L470.7,1461.5 L474.6,1466.5 L479.1,1472.4 L481.5,1484.3 L486.0,1495.1 L493.4,1506.5 L498.3,1496.1 L503.3,1497.1 L508.7,1509.5 L511.7,1519.9 L514.2,1533.2 L517.6,1544.6 L524.0,1556.4 L529.0,1568.3 L532.9,1580.2 L539.9,1585.1 L551.7,1583.6 L563.6,1584.1 L576.4,1584.1 L620.0,1584.5 L680.0,1584.0 L740.0,1584.6 L800.0,1584.1 L860.0,1584.5 L920.0,1584.0 L944.3,1584.3" stroke="#ff8080" stroke-width="1.1" stroke-dasharray="12.9 11 2.2 11 2.6 11.5"/>
</g>
<rect x="538.0" y="1030.6" width="407.2" height="237.4" fill="#fff" stroke="#555" stroke-width="1.2"/>
<line x1="544.0" y1="1056.4" x2="626.7" y2="1056.4" stroke="#000000" stroke-width="3.4" stroke-linecap="round"/>
<text x="636.9" y="1069.1" font-size="37.5">ResNet34</text>
<line x1="544.0" y1="1102.9" x2="626.7" y2="1102.9" stroke="#00ff1e" stroke-width="3.4" stroke-linecap="round" stroke-dasharray="14.3 19.4"/>
<text x="636.9" y="1115.6" font-size="37.5">ResNet50</text>
<line x1="544.0" y1="1149.4" x2="626.7" y2="1149.4" stroke="#0000ff" stroke-width="3.4" stroke-linecap="round" stroke-dasharray="2.2 17.8"/>
<text x="636.9" y="1162.1" font-size="37.5">VGG16</text>
<line x1="544.0" y1="1195.9" x2="626.7" y2="1195.9" stroke="#ff8000" stroke-width="3.4" stroke-linecap="round" stroke-dasharray="17.5 11.6 1.8 12"/>
<text x="636.9" y="1208.6" font-size="37.5">MobileNetV2</text>
<line x1="544.0" y1="1242.4" x2="626.7" y2="1242.4" stroke="#ff0a0a" stroke-width="3.4" stroke-linecap="round" stroke-dasharray="12.9 11 2.2 11 2.6 11.5"/>
<text x="636.9" y="1255.1" font-size="37.5">QY-SE-MResNet34</text>
<g fill="#000">
<rect x="124.05" y="1028.90" width="2.7" height="660.80"/>
<rect x="947.05" y="1028.90" width="2.7" height="660.80"/>
<rect x="124.05" y="1028.90" width="825.70" height="2.2"/>
<rect x="124.05" y="1687.50" width="825.70" height="2.2"/>
<rect x="328.83" y="1675.60" width="2.5" height="13"/>
<rect x="533.50" y="1675.60" width="2.5" height="13"/>
<rect x="738.18" y="1675.60" width="2.5" height="13"/>
<rect x="942.85" y="1675.60" width="2.5" height="13"/>
<rect x="125.40" y="1583.79" width="13.3" height="2.5"/>
<rect x="125.40" y="1445.03" width="13.3" height="2.5"/>
<rect x="125.40" y="1306.27" width="13.3" height="2.5"/>
<rect x="125.40" y="1167.51" width="13.3" height="2.5"/>
</g>
<text x="125.4" y="1731.8" font-size="37.5" text-anchor="middle">0</text>
<text x="330.1" y="1731.8" font-size="37.5" text-anchor="middle">50</text>
<text x="534.8" y="1731.8" font-size="37.5" text-anchor="middle">100</text>
<text x="739.4" y="1731.8" font-size="37.5" text-anchor="middle">150</text>
<text x="944.1" y="1731.8" font-size="37.5" text-anchor="middle">200</text>
<text x="110.8" y="1596.5" font-size="37.5" text-anchor="end">0.4</text>
<text x="110.8" y="1457.8" font-size="37.5" text-anchor="end">0.8</text>
<text x="110.8" y="1319.0" font-size="37.5" text-anchor="end">1.2</text>
<text x="110.8" y="1180.3" font-size="37.5" text-anchor="end">1.6</text>
<text x="110.8" y="1041.5" font-size="37.5" text-anchor="end">2.0</text>
<text x="536.9" y="1791.3" font-size="37.5" text-anchor="middle">epotch</text>
<text transform="translate(48.4,1359.3) rotate(-90)" x="0" y="0" font-size="37.5" text-anchor="middle">train_loss</text>
<text x="548.8" y="1005.1" font-size="37.5" text-anchor="middle">Comparison chart of train loss</text>
<clipPath id="c4"><rect x="1169.8" y="1030.0" width="822.8" height="658.7"/></clipPath>
<g clip-path="url(#c4)" fill="none" stroke-width="3.4" stroke-linejoin="round" stroke-linecap="round">
<path d="M1174.2,1199.3 L1178.3,1228.3 L1182.4,1242.8 L1186.8,1323.8 L1190.4,1323.8 L1198.9,1223.5 L1202.5,1216.2 L1206.1,1242.8 L1210.9,1304.5 L1214.6,1280.3 L1219.4,1291.2 L1225.5,1245.2 L1230.3,1248.9 L1235.1,1236.8 L1240.0,1325.0 L1244.8,1290.0 L1248.4,1292.4 L1252.1,1283.9 L1255.7,1343.2 L1259.3,1311.7 L1264.2,1303.3 L1269.0,1311.7 L1272.6,1372.2 L1276.2,1372.2 L1281.1,1383.1 L1288.3,1349.2 L1295.6,1368.6 L1300.4,1416.9 L1305.3,1363.7 L1310.1,1372.2 L1313.7,1345.6 L1317.4,1394.0 L1322.2,1394.0 L1325.8,1438.7 L1334.3,1412.1 L1341.5,1436.3 L1346.4,1416.9 L1352.4,1308.1 L1358.5,1296.0 L1365.7,1371.0 L1373.0,1392.8 L1382.7,1390.3 L1386.3,1369.8 L1391.1,1395.2 L1398.4,1438.7 L1403.2,1380.7 L1406.8,1412.1 L1411.7,1385.5 L1418.9,1400.0 L1415.0,1387.5 L1420.2,1397.9 L1426.6,1432.7 L1439.5,1399.2 L1444.7,1418.5 L1448.6,1369.5 L1452.4,1395.3 L1456.3,1386.3 L1460.2,1454.7 L1465.3,1441.8 L1469.2,1400.5 L1473.1,1401.7 L1477.0,1385.0 L1480.8,1432.7 L1484.7,1383.7 L1492.5,1421.1 L1497.6,1463.7 L1502.8,1459.8 L1508.0,1404.3 L1514.4,1317.8 L1518.3,1359.1 L1522.2,1397.9 L1526.0,1449.5 L1529.9,1449.5 L1535.1,1408.2 L1538.9,1417.2 L1542.8,1346.2 L1546.7,1347.5 L1550.6,1399.2 L1554.4,1387.5 L1558.3,1418.5 L1562.2,1370.8 L1567.3,1404.3 L1571.2,1370.8 L1575.1,1312.7 L1579.0,1387.5 L1582.8,1527.0 L1586.7,1532.1 L1594.4,1521.8 L1599.6,1458.5 L1603.5,1465.0 L1608.6,1461.1 L1612.5,1465.0 L1616.4,1459.8 L1620.3,1471.5 L1624.1,1449.5 L1628.0,1310.1 L1633.2,1297.2 L1638.3,1408.2 L1644.8,1596.7 L1648.7,1528.3 L1652.5,1550.2 L1656.4,1511.5 L1660.3,1519.2 L1664.2,1508.9 L1669.3,1521.8 L1673.2,1506.3 L1677.3,1524.8 L1681.4,1507.8 L1685.5,1522.5 L1689.6,1500.7 L1693.7,1526.8 L1697.8,1503.0 L1701.9,1526.6 L1706.0,1506.2 L1710.0,1528.4 L1714.1,1504.2 L1718.2,1529.0 L1722.3,1503.3 L1726.4,1529.6 L1730.5,1505.6 L1734.6,1522.4 L1738.7,1508.7 L1742.8,1528.3 L1746.9,1508.5 L1751.0,1527.6 L1755.1,1503.7 L1759.2,1521.4 L1763.3,1502.0 L1767.3,1521.1 L1771.4,1501.1 L1775.5,1529.6 L1779.6,1508.0 L1783.7,1528.4 L1787.8,1502.6 L1791.9,1522.1 L1796.0,1503.2 L1800.1,1522.0 L1804.2,1500.7 L1808.3,1528.0 L1812.4,1500.0 L1816.5,1521.3 L1820.6,1506.9 L1824.6,1527.3 L1828.7,1503.9 L1832.8,1522.7 L1836.9,1500.9 L1841.0,1529.6 L1845.1,1507.1 L1849.2,1522.3 L1853.3,1503.2 L1857.4,1525.0 L1861.5,1503.3 L1865.6,1525.9 L1869.7,1506.1 L1873.8,1521.0 L1877.9,1508.8 L1882.0,1525.6 L1886.0,1502.6 L1890.1,1525.2 L1894.2,1502.4 L1898.3,1526.4 L1902.4,1501.0 L1906.5,1527.6 L1910.6,1506.9 L1914.7,1522.2 L1918.8,1509.6 L1922.9,1521.2 L1927.0,1501.2 L1931.1,1529.9 L1935.2,1502.4 L1939.3,1521.9 L1943.3,1503.3 L1947.4,1522.1 L1951.5,1500.9 L1955.6,1527.6 L1959.7,1502.4 L1963.8,1527.1 L1967.9,1505.9 L1972.0,1529.7 L1976.1,1500.2 L1980.2,1523.3 L1984.3,1505.7 L1988.4,1528.5" stroke="#000000" stroke-width="3.36"/>
<path d="M1173.5,1085.6 L1177.6,1100.1 L1181.7,1063.9 L1185.8,1102.6 L1189.9,1095.3 L1194.0,1109.8 L1198.1,1068.7 L1202.2,1034.8 L1206.4,1059.0 L1210.5,1102.6 L1214.6,1136.4 L1218.7,1165.4 L1222.8,1179.9 L1226.9,1296.0 L1231.0,1218.6 L1235.1,1259.7 L1239.2,1230.7 L1243.4,1213.8 L1247.5,1199.3 L1251.6,1179.9 L1255.7,1233.1 L1259.8,1213.8 L1263.9,1247.7 L1268.0,1271.8 L1272.1,1281.5 L1276.2,1317.8 L1280.4,1344.4 L1284.5,1361.3 L1288.6,1351.6 L1292.7,1310.5 L1296.8,1288.8 L1300.9,1296.0 L1305.0,1291.2 L1309.1,1305.7 L1313.2,1286.3 L1317.4,1254.9 L1321.5,1315.4 L1325.6,1354.1 L1329.7,1356.5 L1333.8,1358.9 L1337.9,1363.7 L1342.0,1366.2 L1346.1,1368.6 L1350.2,1366.2 L1354.4,1356.5 L1358.5,1339.6 L1362.6,1281.5 L1366.7,1267.0 L1370.8,1262.2 L1374.9,1300.9 L1379.0,1334.7 L1383.1,1327.5 L1387.2,1269.4 L1391.4,1233.1 L1395.5,1240.4 L1399.6,1271.8 L1403.7,1308.1 L1407.8,1344.4 L1411.9,1325.0 L1416.0,1315.4 L1420.1,1334.7 L1424.3,1337.1 L1422.7,1341.1 L1427.9,1310.1 L1435.7,1320.4 L1438.2,1330.7 L1446.0,1333.3 L1449.9,1346.2 L1456.3,1364.3 L1458.9,1382.4 L1469.2,1369.5 L1470.5,1335.9 L1477.0,1310.1 L1480.8,1338.5 L1484.7,1312.7 L1495.0,1328.2 L1501.5,1356.6 L1513.1,1325.6 L1523.4,1356.6 L1528.6,1382.4 L1533.8,1408.2 L1538.9,1387.5 L1544.1,1328.2 L1549.3,1297.2 L1554.4,1312.7 L1559.6,1330.7 L1564.8,1325.6 L1572.5,1361.7 L1580.2,1369.5 L1586.7,1348.8 L1595.7,1325.6 L1611.2,1328.2 L1624.1,1333.3 L1642.2,1321.7 L1651.3,1328.2 L1665.5,1325.6 L1672.0,1366.3 L1676.1,1316.4 L1680.2,1352.7 L1684.3,1339.6 L1688.4,1364.4 L1692.5,1335.5 L1696.6,1363.1 L1700.7,1322.1 L1704.7,1367.2 L1708.8,1335.8 L1712.9,1323.4 L1717.0,1332.2 L1721.1,1347.6 L1725.2,1315.3 L1729.3,1334.4 L1733.4,1314.1 L1737.5,1317.2 L1741.6,1322.7 L1745.7,1326.0 L1749.8,1328.3 L1753.9,1355.5 L1758.0,1336.0 L1762.0,1359.8 L1766.1,1362.0 L1770.2,1361.8 L1774.3,1364.7 L1778.4,1344.6 L1782.5,1349.7 L1786.6,1361.1 L1790.7,1342.9 L1794.8,1321.2 L1798.9,1341.6 L1803.0,1342.1 L1807.1,1323.2 L1811.2,1318.5 L1815.3,1323.5 L1819.3,1351.2 L1823.4,1357.4 L1827.5,1349.0 L1831.6,1336.5 L1835.7,1315.0 L1839.8,1313.7 L1843.9,1348.9 L1848.0,1342.1 L1852.1,1338.2 L1856.2,1322.8 L1860.3,1320.2 L1864.4,1323.2 L1868.5,1320.4 L1872.6,1345.9 L1876.7,1330.1 L1880.7,1343.5 L1884.8,1336.7 L1888.9,1343.1 L1893.0,1353.7 L1897.1,1355.6 L1901.2,1321.6 L1905.3,1365.3 L1909.4,1359.6 L1913.5,1357.8 L1917.6,1338.0 L1921.7,1364.9 L1925.8,1357.4 L1929.9,1326.4 L1934.0,1350.6 L1938.0,1359.4 L1942.1,1354.2 L1946.2,1362.1 L1950.3,1342.1 L1954.4,1349.7 L1958.5,1317.6 L1962.6,1349.4 L1966.7,1321.4 L1970.8,1352.6 L1974.9,1362.2 L1979.0,1333.6 L1983.1,1317.3 L1987.2,1315.8" stroke="#00ff1e" stroke-width="3.36" stroke-dasharray="14.3 19.4"/>
<path d="M1173.5,1085.6 L1177.6,1100.1 L1181.7,1063.9 L1185.8,1102.6 L1189.9,1095.3 L1194.0,1109.8 L1198.1,1068.7 L1202.2,1034.8 L1206.4,1059.0 L1210.5,1102.6 L1214.6,1136.4 L1218.7,1165.4 L1222.8,1179.9 L1226.9,1296.0 L1231.0,1218.6 L1235.1,1259.7 L1239.2,1230.7 L1243.4,1213.8 L1247.5,1199.3 L1251.6,1179.9 L1255.7,1233.1 L1259.8,1213.8 L1263.9,1247.7 L1268.0,1271.8 L1272.1,1281.5 L1276.2,1317.8 L1280.4,1344.4 L1284.5,1361.3 L1288.6,1351.6 L1292.7,1310.5 L1296.8,1288.8 L1300.9,1296.0 L1305.0,1291.2 L1309.1,1305.7 L1313.2,1286.3 L1317.4,1254.9 L1321.5,1315.4 L1325.6,1354.1 L1329.7,1356.5 L1333.8,1358.9 L1337.9,1363.7 L1342.0,1366.2 L1346.1,1368.6 L1350.2,1366.2 L1354.4,1356.5 L1358.5,1339.6 L1362.6,1281.5 L1366.7,1267.0 L1370.8,1262.2 L1374.9,1300.9 L1379.0,1334.7 L1383.1,1327.5 L1387.2,1269.4 L1391.4,1233.1 L1395.5,1240.4 L1399.6,1271.8 L1403.7,1308.1 L1407.8,1344.4 L1411.9,1325.0 L1416.0,1315.4 L1420.1,1334.7 L1424.3,1337.1 L1422.7,1341.1 L1427.9,1310.1 L1435.7,1320.4 L1438.2,1330.7 L1446.0,1333.3 L1449.9,1346.2 L1456.3,1364.3 L1458.9,1382.4 L1469.2,1369.5 L1470.5,1335.9 L1477.0,1310.1 L1480.8,1338.5 L1484.7,1312.7 L1495.0,1328.2 L1501.5,1356.6 L1513.1,1325.6 L1523.4,1356.6 L1528.6,1382.4 L1533.8,1408.2 L1538.9,1387.5 L1544.1,1328.2 L1549.3,1297.2 L1554.4,1312.7 L1559.6,1330.7 L1564.8,1325.6 L1572.5,1361.7 L1580.2,1369.5 L1586.7,1348.8 L1595.7,1325.6 L1611.2,1328.2 L1624.1,1333.3 L1642.2,1321.7 L1651.3,1328.2 L1665.5,1325.6 L1672.0,1366.3 L1676.1,1316.4 L1680.2,1352.7 L1684.3,1339.6 L1688.4,1364.4 L1692.5,1335.5 L1696.6,1363.1 L1700.7,1322.1 L1704.7,1367.2 L1708.8,1335.8 L1712.9,1323.4 L1717.0,1332.2 L1721.1,1347.6 L1725.2,1315.3 L1729.3,1334.4 L1733.4,1314.1 L1737.5,1317.2 L1741.6,1322.7 L1745.7,1326.0 L1749.8,1328.3 L1753.9,1355.5 L1758.0,1336.0 L1762.0,1359.8 L1766.1,1362.0 L1770.2,1361.8 L1774.3,1364.7 L1778.4,1344.6 L1782.5,1349.7 L1786.6,1361.1 L1790.7,1342.9 L1794.8,1321.2 L1798.9,1341.6 L1803.0,1342.1 L1807.1,1323.2 L1811.2,1318.5 L1815.3,1323.5 L1819.3,1351.2 L1823.4,1357.4 L1827.5,1349.0 L1831.6,1336.5 L1835.7,1315.0 L1839.8,1313.7 L1843.9,1348.9 L1848.0,1342.1 L1852.1,1338.2 L1856.2,1322.8 L1860.3,1320.2 L1864.4,1323.2 L1868.5,1320.4 L1872.6,1345.9 L1876.7,1330.1 L1880.7,1343.5 L1884.8,1336.7 L1888.9,1343.1 L1893.0,1353.7 L1897.1,1355.6 L1901.2,1321.6 L1905.3,1365.3 L1909.4,1359.6 L1913.5,1357.8 L1917.6,1338.0 L1921.7,1364.9 L1925.8,1357.4 L1929.9,1326.4 L1934.0,1350.6 L1938.0,1359.4 L1942.1,1354.2 L1946.2,1362.1 L1950.3,1342.1 L1954.4,1349.7 L1958.5,1317.6 L1962.6,1349.4 L1966.7,1321.4 L1970.8,1352.6 L1974.9,1362.2 L1979.0,1333.6 L1983.1,1317.3 L1987.2,1315.8" stroke="#9dffc8" stroke-width="1.1" stroke-dasharray="14.3 19.4"/>
<path d="M1174.2,1136.4 L1179.5,1149.7 L1188.0,1135.2 L1207.3,1141.2 L1210.9,1125.5 L1215.8,1146.1 L1217.0,1161.8 L1219.4,1184.8 L1221.8,1204.1 L1224.3,1225.9 L1227.9,1264.6 L1231.5,1283.9 L1235.1,1303.3 L1237.6,1323.8 L1241.2,1343.2 L1244.8,1349.2 L1248.4,1375.8 L1250.9,1332.3 L1254.5,1253.7 L1258.1,1194.4 L1260.5,1175.1 L1264.2,1196.9 L1265.4,1216.2 L1267.8,1236.8 L1269.0,1257.3 L1271.4,1296.0 L1276.2,1316.6 L1283.5,1332.3 L1288.3,1283.9 L1290.8,1274.3 L1295.6,1268.2 L1302.8,1285.1 L1308.9,1304.5 L1312.5,1286.3 L1318.6,1288.8 L1319.8,1268.2 L1324.6,1270.6 L1329.4,1265.8 L1334.3,1282.7 L1339.1,1264.6 L1345.2,1252.5 L1348.8,1271.8 L1351.2,1291.2 L1356.1,1332.3 L1358.5,1372.2 L1365.7,1331.1 L1370.6,1311.7 L1375.4,1328.7 L1377.8,1351.6 L1385.1,1300.9 L1389.9,1283.9 L1393.5,1362.5 L1397.2,1303.3 L1406.8,1332.3 L1416.5,1334.7 L1420.2,1330.7 L1425.3,1310.1 L1431.8,1292.0 L1434.4,1310.1 L1438.2,1328.2 L1440.8,1348.8 L1442.1,1369.5 L1446.0,1408.2 L1452.4,1423.7 L1456.3,1444.3 L1460.2,1392.7 L1464.1,1330.7 L1470.5,1320.4 L1471.8,1304.9 L1478.3,1290.7 L1480.8,1250.7 L1483.4,1289.4 L1484.7,1307.5 L1488.6,1372.1 L1492.5,1392.7 L1496.3,1341.1 L1500.2,1283.0 L1504.1,1297.2 L1506.7,1315.2 L1510.5,1356.6 L1514.4,1418.5 L1518.3,1431.4 L1522.2,1446.9 L1528.6,1434.0 L1535.1,1382.4 L1538.9,1379.8 L1545.4,1421.1 L1549.3,1439.2 L1555.7,1452.1 L1559.6,1472.7 L1563.5,1474.0 L1567.3,1454.7 L1569.9,1434.0 L1572.5,1413.4 L1576.4,1372.1 L1580.2,1292.0 L1584.1,1290.7 L1588.0,1372.1 L1591.9,1392.7 L1600.9,1382.4 L1606.1,1395.3 L1611.2,1413.4 L1613.8,1434.0 L1621.6,1431.4 L1624.1,1392.7 L1629.3,1410.8 L1634.5,1454.7 L1637.1,1472.7 L1642.2,1372.1 L1647.4,1356.6 L1651.3,1377.2 L1659.0,1351.4 L1664.2,1382.4 L1670.6,1366.9 L1673.0,1381.5 L1677.1,1351.3 L1681.2,1383.8 L1685.3,1356.3 L1689.4,1395.2 L1693.5,1349.2 L1697.6,1390.5 L1701.7,1355.5 L1705.7,1381.1 L1709.8,1357.0 L1713.9,1388.7 L1718.0,1347.9 L1722.1,1392.5 L1726.2,1350.0 L1730.3,1390.1 L1734.4,1362.5 L1738.5,1399.1 L1742.6,1348.6 L1746.7,1388.8 L1750.8,1364.2 L1754.9,1391.8 L1759.0,1355.6 L1763.0,1397.4 L1767.1,1353.4 L1771.2,1391.6 L1775.3,1353.9 L1779.4,1388.8 L1783.5,1365.2 L1787.6,1382.0 L1791.7,1346.0 L1795.8,1398.8 L1799.9,1359.9 L1804.0,1399.9 L1808.1,1355.0 L1812.2,1382.9 L1816.3,1347.8 L1820.3,1393.3 L1824.4,1346.2 L1828.5,1395.4 L1832.6,1364.3 L1836.7,1394.2 L1840.8,1349.3 L1844.9,1400.1 L1849.0,1359.1 L1853.1,1392.1 L1857.2,1351.2 L1861.3,1384.3 L1865.4,1348.0 L1869.5,1397.6 L1873.6,1365.2 L1877.7,1393.5 L1881.7,1358.4 L1885.8,1384.7 L1889.9,1353.2 L1894.0,1401.6 L1898.1,1354.4 L1902.2,1383.1 L1906.3,1355.6 L1910.4,1397.5 L1914.5,1345.7 L1918.6,1396.1 L1922.7,1365.4 L1926.8,1401.6 L1930.9,1353.3 L1935.0,1382.5 L1939.0,1363.6 L1943.1,1382.6 L1947.2,1351.9 L1951.3,1384.0 L1955.4,1348.9 L1959.5,1383.1 L1963.6,1354.7 L1967.7,1390.3 L1971.8,1365.5 L1975.9,1380.8 L1980.0,1346.8 L1984.1,1401.8 L1988.2,1363.6" stroke="#0000ff" stroke-width="3.20" stroke-dasharray="2.2 17.8"/>
<path d="M1174.2,1136.4 L1179.5,1149.7 L1188.0,1135.2 L1207.3,1141.2 L1210.9,1125.5 L1215.8,1146.1 L1217.0,1161.8 L1219.4,1184.8 L1221.8,1204.1 L1224.3,1225.9 L1227.9,1264.6 L1231.5,1283.9 L1235.1,1303.3 L1237.6,1323.8 L1241.2,1343.2 L1244.8,1349.2 L1248.4,1375.8 L1250.9,1332.3 L1254.5,1253.7 L1258.1,1194.4 L1260.5,1175.1 L1264.2,1196.9 L1265.4,1216.2 L1267.8,1236.8 L1269.0,1257.3 L1271.4,1296.0 L1276.2,1316.6 L1283.5,1332.3 L1288.3,1283.9 L1290.8,1274.3 L1295.6,1268.2 L1302.8,1285.1 L1308.9,1304.5 L1312.5,1286.3 L1318.6,1288.8 L1319.8,1268.2 L1324.6,1270.6 L1329.4,1265.8 L1334.3,1282.7 L1339.1,1264.6 L1345.2,1252.5 L1348.8,1271.8 L1351.2,1291.2 L1356.1,1332.3 L1358.5,1372.2 L1365.7,1331.1 L1370.6,1311.7 L1375.4,1328.7 L1377.8,1351.6 L1385.1,1300.9 L1389.9,1283.9 L1393.5,1362.5 L1397.2,1303.3 L1406.8,1332.3 L1416.5,1334.7 L1420.2,1330.7 L1425.3,1310.1 L1431.8,1292.0 L1434.4,1310.1 L1438.2,1328.2 L1440.8,1348.8 L1442.1,1369.5 L1446.0,1408.2 L1452.4,1423.7 L1456.3,1444.3 L1460.2,1392.7 L1464.1,1330.7 L1470.5,1320.4 L1471.8,1304.9 L1478.3,1290.7 L1480.8,1250.7 L1483.4,1289.4 L1484.7,1307.5 L1488.6,1372.1 L1492.5,1392.7 L1496.3,1341.1 L1500.2,1283.0 L1504.1,1297.2 L1506.7,1315.2 L1510.5,1356.6 L1514.4,1418.5 L1518.3,1431.4 L1522.2,1446.9 L1528.6,1434.0 L1535.1,1382.4 L1538.9,1379.8 L1545.4,1421.1 L1549.3,1439.2 L1555.7,1452.1 L1559.6,1472.7 L1563.5,1474.0 L1567.3,1454.7 L1569.9,1434.0 L1572.5,1413.4 L1576.4,1372.1 L1580.2,1292.0 L1584.1,1290.7 L1588.0,1372.1 L1591.9,1392.7 L1600.9,1382.4 L1606.1,1395.3 L1611.2,1413.4 L1613.8,1434.0 L1621.6,1431.4 L1624.1,1392.7 L1629.3,1410.8 L1634.5,1454.7 L1637.1,1472.7 L1642.2,1372.1 L1647.4,1356.6 L1651.3,1377.2 L1659.0,1351.4 L1664.2,1382.4 L1670.6,1366.9 L1673.0,1381.5 L1677.1,1351.3 L1681.2,1383.8 L1685.3,1356.3 L1689.4,1395.2 L1693.5,1349.2 L1697.6,1390.5 L1701.7,1355.5 L1705.7,1381.1 L1709.8,1357.0 L1713.9,1388.7 L1718.0,1347.9 L1722.1,1392.5 L1726.2,1350.0 L1730.3,1390.1 L1734.4,1362.5 L1738.5,1399.1 L1742.6,1348.6 L1746.7,1388.8 L1750.8,1364.2 L1754.9,1391.8 L1759.0,1355.6 L1763.0,1397.4 L1767.1,1353.4 L1771.2,1391.6 L1775.3,1353.9 L1779.4,1388.8 L1783.5,1365.2 L1787.6,1382.0 L1791.7,1346.0 L1795.8,1398.8 L1799.9,1359.9 L1804.0,1399.9 L1808.1,1355.0 L1812.2,1382.9 L1816.3,1347.8 L1820.3,1393.3 L1824.4,1346.2 L1828.5,1395.4 L1832.6,1364.3 L1836.7,1394.2 L1840.8,1349.3 L1844.9,1400.1 L1849.0,1359.1 L1853.1,1392.1 L1857.2,1351.2 L1861.3,1384.3 L1865.4,1348.0 L1869.5,1397.6 L1873.6,1365.2 L1877.7,1393.5 L1881.7,1358.4 L1885.8,1384.7 L1889.9,1353.2 L1894.0,1401.6 L1898.1,1354.4 L1902.2,1383.1 L1906.3,1355.6 L1910.4,1397.5 L1914.5,1345.7 L1918.6,1396.1 L1922.7,1365.4 L1926.8,1401.6 L1930.9,1353.3 L1935.0,1382.5 L1939.0,1363.6 L1943.1,1382.6 L1947.2,1351.9 L1951.3,1384.0 L1955.4,1348.9 L1959.5,1383.1 L1963.6,1354.7 L1967.7,1390.3 L1971.8,1365.5 L1975.9,1380.8 L1980.0,1346.8 L1984.1,1401.8 L1988.2,1363.6" stroke="#8080ff" stroke-width="1.1" stroke-dasharray="2.2 17.8"/>
<path d="M1173.5,1107.4 L1175.9,1124.3 L1179.5,1131.6 L1183.1,1134.0 L1185.6,1143.7 L1189.2,1136.4 L1195.2,1131.6 L1200.1,1136.4 L1203.7,1146.1 L1207.3,1149.7 L1212.2,1141.2 L1214.6,1126.7 L1217.0,1112.2 L1223.0,1102.6 L1230.3,1113.4 L1237.6,1117.1 L1241.2,1126.7 L1242.4,1138.8 L1244.8,1153.3 L1246.0,1170.3 L1247.2,1184.8 L1248.4,1199.3 L1249.6,1213.8 L1252.1,1235.6 L1254.5,1252.5 L1258.1,1262.2 L1261.7,1274.3 L1264.2,1296.0 L1269.0,1271.8 L1271.4,1238.0 L1276.2,1235.6 L1279.9,1228.3 L1282.3,1240.4 L1285.9,1262.2 L1288.3,1269.4 L1292.0,1283.9 L1293.2,1315.4 L1296.8,1288.8 L1300.4,1247.7 L1304.1,1223.5 L1305.3,1211.4 L1307.7,1235.6 L1310.1,1271.8 L1314.9,1291.2 L1319.8,1332.3 L1324.6,1351.6 L1329.4,1366.2 L1334.3,1375.8 L1339.1,1356.5 L1344.0,1354.1 L1351.2,1349.2 L1356.1,1351.6 L1363.3,1356.5 L1370.6,1358.9 L1377.8,1368.6 L1382.7,1371.0 L1389.9,1392.8 L1397.2,1404.8 L1404.4,1380.7 L1409.3,1375.8 L1416.5,1363.7 L1415.0,1356.6 L1420.2,1372.1 L1425.3,1348.8 L1430.5,1361.7 L1435.7,1377.2 L1440.8,1387.5 L1444.7,1397.9 L1448.6,1413.4 L1452.4,1382.4 L1457.6,1364.3 L1461.5,1377.2 L1466.6,1392.7 L1470.5,1397.9 L1477.0,1369.5 L1482.1,1377.2 L1487.3,1364.3 L1492.5,1366.9 L1497.6,1330.7 L1502.8,1325.6 L1505.4,1343.6 L1510.5,1377.2 L1515.7,1369.5 L1520.9,1328.2 L1526.0,1320.4 L1531.2,1304.9 L1535.1,1289.4 L1538.9,1258.4 L1541.5,1219.7 L1545.4,1263.6 L1549.3,1279.1 L1554.4,1268.8 L1559.6,1240.4 L1563.5,1235.2 L1567.3,1245.5 L1569.9,1219.7 L1572.5,1273.9 L1573.8,1374.6 L1577.7,1385.0 L1582.8,1315.2 L1588.0,1315.2 L1593.2,1330.7 L1598.3,1351.4 L1603.5,1338.5 L1608.6,1315.2 L1613.8,1266.2 L1617.7,1273.9 L1621.6,1315.2 L1624.1,1403.0 L1629.3,1434.0 L1634.5,1421.1 L1639.6,1397.9 L1642.2,1382.4 L1647.4,1418.5 L1652.5,1475.3 L1656.4,1496.0 L1662.9,1490.8 L1675.0,1493.4 L1676.0,1498.7 L1680.1,1487.6 L1684.2,1497.2 L1688.3,1488.8 L1692.4,1497.2 L1696.5,1491.3 L1700.6,1498.8 L1704.7,1490.5 L1708.7,1499.0 L1712.8,1485.6 L1716.9,1496.9 L1721.0,1486.5 L1725.1,1497.7 L1729.2,1485.2 L1733.3,1502.3 L1737.4,1489.8 L1741.5,1503.2 L1745.6,1485.8 L1749.7,1497.2 L1753.8,1488.2 L1757.9,1502.1 L1762.0,1484.2 L1766.0,1497.9 L1770.1,1489.4 L1774.2,1502.6 L1778.3,1483.9 L1782.4,1497.3 L1786.5,1490.7 L1790.6,1502.5 L1794.7,1488.9 L1798.8,1499.6 L1802.9,1484.6 L1807.0,1502.4 L1811.1,1486.2 L1815.2,1503.4 L1819.3,1485.7 L1823.3,1502.9 L1827.4,1486.4 L1831.5,1501.2 L1835.6,1490.9 L1839.7,1503.7 L1843.8,1484.3 L1847.9,1499.3 L1852.0,1486.5 L1856.1,1496.7 L1860.2,1487.5 L1864.3,1501.5 L1868.4,1489.1 L1872.5,1499.8 L1876.6,1484.9 L1880.7,1497.7 L1884.7,1487.8 L1888.8,1497.3 L1892.9,1488.4 L1897.0,1503.5 L1901.1,1486.6 L1905.2,1496.8 L1909.3,1484.7 L1913.4,1501.7 L1917.5,1487.3 L1921.6,1498.9 L1925.7,1489.1 L1929.8,1498.0 L1933.9,1486.5 L1938.0,1497.0 L1942.0,1484.0 L1946.1,1497.4 L1950.2,1486.5 L1954.3,1501.1 L1958.4,1488.6 L1962.5,1498.8 L1966.6,1488.0 L1970.7,1499.2 L1974.8,1483.8 L1978.9,1501.6 L1983.0,1487.4 L1987.1,1501.8" stroke="#ff8000" stroke-width="3.04" stroke-dasharray="17.5 11.6 1.8 12"/>
<path d="M1173.5,1107.4 L1175.9,1124.3 L1179.5,1131.6 L1183.1,1134.0 L1185.6,1143.7 L1189.2,1136.4 L1195.2,1131.6 L1200.1,1136.4 L1203.7,1146.1 L1207.3,1149.7 L1212.2,1141.2 L1214.6,1126.7 L1217.0,1112.2 L1223.0,1102.6 L1230.3,1113.4 L1237.6,1117.1 L1241.2,1126.7 L1242.4,1138.8 L1244.8,1153.3 L1246.0,1170.3 L1247.2,1184.8 L1248.4,1199.3 L1249.6,1213.8 L1252.1,1235.6 L1254.5,1252.5 L1258.1,1262.2 L1261.7,1274.3 L1264.2,1296.0 L1269.0,1271.8 L1271.4,1238.0 L1276.2,1235.6 L1279.9,1228.3 L1282.3,1240.4 L1285.9,1262.2 L1288.3,1269.4 L1292.0,1283.9 L1293.2,1315.4 L1296.8,1288.8 L1300.4,1247.7 L1304.1,1223.5 L1305.3,1211.4 L1307.7,1235.6 L1310.1,1271.8 L1314.9,1291.2 L1319.8,1332.3 L1324.6,1351.6 L1329.4,1366.2 L1334.3,1375.8 L1339.1,1356.5 L1344.0,1354.1 L1351.2,1349.2 L1356.1,1351.6 L1363.3,1356.5 L1370.6,1358.9 L1377.8,1368.6 L1382.7,1371.0 L1389.9,1392.8 L1397.2,1404.8 L1404.4,1380.7 L1409.3,1375.8 L1416.5,1363.7 L1415.0,1356.6 L1420.2,1372.1 L1425.3,1348.8 L1430.5,1361.7 L1435.7,1377.2 L1440.8,1387.5 L1444.7,1397.9 L1448.6,1413.4 L1452.4,1382.4 L1457.6,1364.3 L1461.5,1377.2 L1466.6,1392.7 L1470.5,1397.9 L1477.0,1369.5 L1482.1,1377.2 L1487.3,1364.3 L1492.5,1366.9 L1497.6,1330.7 L1502.8,1325.6 L1505.4,1343.6 L1510.5,1377.2 L1515.7,1369.5 L1520.9,1328.2 L1526.0,1320.4 L1531.2,1304.9 L1535.1,1289.4 L1538.9,1258.4 L1541.5,1219.7 L1545.4,1263.6 L1549.3,1279.1 L1554.4,1268.8 L1559.6,1240.4 L1563.5,1235.2 L1567.3,1245.5 L1569.9,1219.7 L1572.5,1273.9 L1573.8,1374.6 L1577.7,1385.0 L1582.8,1315.2 L1588.0,1315.2 L1593.2,1330.7 L1598.3,1351.4 L1603.5,1338.5 L1608.6,1315.2 L1613.8,1266.2 L1617.7,1273.9 L1621.6,1315.2 L1624.1,1403.0 L1629.3,1434.0 L1634.5,1421.1 L1639.6,1397.9 L1642.2,1382.4 L1647.4,1418.5 L1652.5,1475.3 L1656.4,1496.0 L1662.9,1490.8 L1675.0,1493.4 L1676.0,1498.7 L1680.1,1487.6 L1684.2,1497.2 L1688.3,1488.8 L1692.4,1497.2 L1696.5,1491.3 L1700.6,1498.8 L1704.7,1490.5 L1708.7,1499.0 L1712.8,1485.6 L1716.9,1496.9 L1721.0,1486.5 L1725.1,1497.7 L1729.2,1485.2 L1733.3,1502.3 L1737.4,1489.8 L1741.5,1503.2 L1745.6,1485.8 L1749.7,1497.2 L1753.8,1488.2 L1757.9,1502.1 L1762.0,1484.2 L1766.0,1497.9 L1770.1,1489.4 L1774.2,1502.6 L1778.3,1483.9 L1782.4,1497.3 L1786.5,1490.7 L1790.6,1502.5 L1794.7,1488.9 L1798.8,1499.6 L1802.9,1484.6 L1807.0,1502.4 L1811.1,1486.2 L1815.2,1503.4 L1819.3,1485.7 L1823.3,1502.9 L1827.4,1486.4 L1831.5,1501.2 L1835.6,1490.9 L1839.7,1503.7 L1843.8,1484.3 L1847.9,1499.3 L1852.0,1486.5 L1856.1,1496.7 L1860.2,1487.5 L1864.3,1501.5 L1868.4,1489.1 L1872.5,1499.8 L1876.6,1484.9 L1880.7,1497.7 L1884.7,1487.8 L1888.8,1497.3 L1892.9,1488.4 L1897.0,1503.5 L1901.1,1486.6 L1905.2,1496.8 L1909.3,1484.7 L1913.4,1501.7 L1917.5,1487.3 L1921.6,1498.9 L1925.7,1489.1 L1929.8,1498.0 L1933.9,1486.5 L1938.0,1497.0 L1942.0,1484.0 L1946.1,1497.4 L1950.2,1486.5 L1954.3,1501.1 L1958.4,1488.6 L1962.5,1498.8 L1966.6,1488.0 L1970.7,1499.2 L1974.8,1483.8 L1978.9,1501.6 L1983.0,1487.4 L1987.1,1501.8" stroke="#ffd0a0" stroke-width="1.1" stroke-dasharray="17.5 11.6 1.8 12"/>
<path d="M1170.5,1090.0 L1172.5,1062.0 L1174.5,1040.0 L1177.1,1037.3 L1186.8,1063.9 L1189.2,1088.0 L1191.6,1109.8 L1196.4,1124.3 L1198.9,1165.4 L1201.3,1199.3 L1203.7,1223.5 L1206.1,1264.6 L1208.5,1281.5 L1215.8,1271.8 L1220.6,1279.1 L1227.9,1291.2 L1232.7,1315.4 L1235.1,1334.7 L1240.0,1354.1 L1244.8,1339.6 L1248.4,1279.1 L1254.5,1288.8 L1259.3,1320.2 L1266.6,1315.4 L1271.4,1332.3 L1276.2,1363.7 L1281.1,1395.2 L1285.9,1412.1 L1290.8,1392.8 L1295.6,1366.2 L1300.4,1392.8 L1305.3,1385.5 L1310.1,1373.4 L1314.9,1351.6 L1322.2,1320.2 L1329.4,1317.8 L1336.7,1329.9 L1344.0,1320.2 L1348.8,1308.1 L1356.1,1320.2 L1363.3,1327.5 L1368.1,1339.6 L1375.4,1320.2 L1382.7,1332.3 L1392.3,1327.5 L1397.2,1339.6 L1402.0,1351.6 L1406.8,1392.8 L1411.7,1416.9 L1416.5,1441.1 L1421.3,1426.6 L1418.9,1441.8 L1422.7,1418.5 L1426.6,1354.0 L1433.1,1369.5 L1439.5,1428.9 L1443.4,1444.3 L1447.3,1475.3 L1451.1,1446.9 L1456.3,1413.4 L1460.2,1436.6 L1466.6,1421.1 L1470.5,1459.8 L1474.4,1475.3 L1479.5,1483.1 L1484.7,1493.4 L1488.6,1545.0 L1491.2,1472.7 L1495.0,1408.2 L1500.2,1361.7 L1506.7,1374.6 L1510.5,1392.7 L1514.4,1415.9 L1520.9,1490.8 L1533.8,1508.9 L1541.5,1527.0 L1554.4,1560.5 L1564.8,1586.4 L1575.1,1599.3 L1585.4,1604.4 L1600.9,1601.8 L1621.6,1603.1 L1634.5,1599.3 L1647.4,1603.1 L1662.9,1600.6 L1668.0,1604.2 L1672.1,1598.3 L1676.2,1605.8 L1680.3,1599.7 L1684.4,1603.5 L1688.5,1600.2 L1692.6,1603.1 L1696.7,1600.3 L1700.7,1603.3 L1704.8,1598.5 L1708.9,1606.3 L1713.0,1597.8 L1717.1,1604.1 L1721.2,1598.8 L1725.3,1605.2 L1729.4,1599.1 L1733.5,1603.0 L1737.6,1597.3 L1741.7,1604.9 L1745.8,1599.9 L1749.9,1603.0 L1754.0,1600.0 L1758.0,1606.2 L1762.1,1599.9 L1766.2,1605.0 L1770.3,1596.8 L1774.4,1602.8 L1778.5,1598.9 L1782.6,1604.4 L1786.7,1597.0 L1790.8,1603.4 L1794.9,1599.4 L1799.0,1603.6 L1803.1,1600.1 L1807.2,1605.1 L1811.3,1597.4 L1815.3,1604.3 L1819.4,1600.2 L1823.5,1605.3 L1827.6,1597.6 L1831.7,1605.1 L1835.8,1599.1 L1839.9,1605.7 L1844.0,1598.0 L1848.1,1604.8 L1852.2,1598.4 L1856.3,1603.5 L1860.4,1598.7 L1864.5,1605.6 L1868.6,1597.8 L1872.7,1603.9 L1876.7,1597.3 L1880.8,1605.7 L1884.9,1600.1 L1889.0,1603.3 L1893.1,1599.5 L1897.2,1602.8 L1901.3,1597.6 L1905.4,1605.0 L1909.5,1598.3 L1913.6,1606.3 L1917.7,1599.0 L1921.8,1603.4 L1925.9,1599.9 L1930.0,1603.9 L1934.0,1597.3 L1938.1,1604.9 L1942.2,1600.1 L1946.3,1604.3 L1950.4,1600.1 L1954.5,1604.9 L1958.6,1599.9 L1962.7,1603.3 L1966.8,1598.0 L1970.9,1605.7 L1975.0,1598.1 L1979.1,1603.8 L1983.2,1598.0 L1987.3,1603.7" stroke="#ff0a0a" stroke-width="3.04" stroke-dasharray="12.9 11 2.2 11 2.6 11.5"/>
<path d="M1170.5,1090.0 L1172.5,1062.0 L1174.5,1040.0 L1177.1,1037.3 L1186.8,1063.9 L1189.2,1088.0 L1191.6,1109.8 L1196.4,1124.3 L1198.9,1165.4 L1201.3,1199.3 L1203.7,1223.5 L1206.1,1264.6 L1208.5,1281.5 L1215.8,1271.8 L1220.6,1279.1 L1227.9,1291.2 L1232.7,1315.4 L1235.1,1334.7 L1240.0,1354.1 L1244.8,1339.6 L1248.4,1279.1 L1254.5,1288.8 L1259.3,1320.2 L1266.6,1315.4 L1271.4,1332.3 L1276.2,1363.7 L1281.1,1395.2 L1285.9,1412.1 L1290.8,1392.8 L1295.6,1366.2 L1300.4,1392.8 L1305.3,1385.5 L1310.1,1373.4 L1314.9,1351.6 L1322.2,1320.2 L1329.4,1317.8 L1336.7,1329.9 L1344.0,1320.2 L1348.8,1308.1 L1356.1,1320.2 L1363.3,1327.5 L1368.1,1339.6 L1375.4,1320.2 L1382.7,1332.3 L1392.3,1327.5 L1397.2,1339.6 L1402.0,1351.6 L1406.8,1392.8 L1411.7,1416.9 L1416.5,1441.1 L1421.3,1426.6 L1418.9,1441.8 L1422.7,1418.5 L1426.6,1354.0 L1433.1,1369.5 L1439.5,1428.9 L1443.4,1444.3 L1447.3,1475.3 L1451.1,1446.9 L1456.3,1413.4 L1460.2,1436.6 L1466.6,1421.1 L1470.5,1459.8 L1474.4,1475.3 L1479.5,1483.1 L1484.7,1493.4 L1488.6,1545.0 L1491.2,1472.7 L1495.0,1408.2 L1500.2,1361.7 L1506.7,1374.6 L1510.5,1392.7 L1514.4,1415.9 L1520.9,1490.8 L1533.8,1508.9 L1541.5,1527.0 L1554.4,1560.5 L1564.8,1586.4 L1575.1,1599.3 L1585.4,1604.4 L1600.9,1601.8 L1621.6,1603.1 L1634.5,1599.3 L1647.4,1603.1 L1662.9,1600.6 L1668.0,1604.2 L1672.1,1598.3 L1676.2,1605.8 L1680.3,1599.7 L1684.4,1603.5 L1688.5,1600.2 L1692.6,1603.1 L1696.7,1600.3 L1700.7,1603.3 L1704.8,1598.5 L1708.9,1606.3 L1713.0,1597.8 L1717.1,1604.1 L1721.2,1598.8 L1725.3,1605.2 L1729.4,1599.1 L1733.5,1603.0 L1737.6,1597.3 L1741.7,1604.9 L1745.8,1599.9 L1749.9,1603.0 L1754.0,1600.0 L1758.0,1606.2 L1762.1,1599.9 L1766.2,1605.0 L1770.3,1596.8 L1774.4,1602.8 L1778.5,1598.9 L1782.6,1604.4 L1786.7,1597.0 L1790.8,1603.4 L1794.9,1599.4 L1799.0,1603.6 L1803.1,1600.1 L1807.2,1605.1 L1811.3,1597.4 L1815.3,1604.3 L1819.4,1600.2 L1823.5,1605.3 L1827.6,1597.6 L1831.7,1605.1 L1835.8,1599.1 L1839.9,1605.7 L1844.0,1598.0 L1848.1,1604.8 L1852.2,1598.4 L1856.3,1603.5 L1860.4,1598.7 L1864.5,1605.6 L1868.6,1597.8 L1872.7,1603.9 L1876.7,1597.3 L1880.8,1605.7 L1884.9,1600.1 L1889.0,1603.3 L1893.1,1599.5 L1897.2,1602.8 L1901.3,1597.6 L1905.4,1605.0 L1909.5,1598.3 L1913.6,1606.3 L1917.7,1599.0 L1921.8,1603.4 L1925.9,1599.9 L1930.0,1603.9 L1934.0,1597.3 L1938.1,1604.9 L1942.2,1600.1 L1946.3,1604.3 L1950.4,1600.1 L1954.5,1604.9 L1958.6,1599.9 L1962.7,1603.3 L1966.8,1598.0 L1970.9,1605.7 L1975.0,1598.1 L1979.1,1603.8 L1983.2,1598.0 L1987.3,1603.7" stroke="#ff8080" stroke-width="1.1" stroke-dasharray="12.9 11 2.2 11 2.6 11.5"/>
</g>
<rect x="1582.1" y="1036.5" width="407.9" height="237.5" fill="#fff" stroke="#555" stroke-width="1.2"/>
<line x1="1588.2" y1="1062.3" x2="1670.9" y2="1062.3" stroke="#000000" stroke-width="3.4" stroke-linecap="round"/>
<text x="1681.2" y="1075.0" font-size="37.5">ResNet34</text>
<line x1="1588.2" y1="1108.8" x2="1670.9" y2="1108.8" stroke="#00ff1e" stroke-width="3.4" stroke-linecap="round" stroke-dasharray="14.3 19.4"/>
<text x="1681.2" y="1121.5" font-size="37.5">ResNet50</text>
<line x1="1588.2" y1="1155.3" x2="1670.9" y2="1155.3" stroke="#0000ff" stroke-width="3.4" stroke-linecap="round" stroke-dasharray="2.2 17.8"/>
<text x="1681.2" y="1168.0" font-size="37.5">VGG16</text>
<line x1="1588.2" y1="1201.8" x2="1670.9" y2="1201.8" stroke="#ff8000" stroke-width="3.4" stroke-linecap="round" stroke-dasharray="17.5 11.6 1.8 12"/>
<text x="1681.2" y="1214.5" font-size="37.5">MobileNetV2</text>
<line x1="1588.2" y1="1248.3" x2="1670.9" y2="1248.3" stroke="#ff0a0a" stroke-width="3.4" stroke-linecap="round" stroke-dasharray="12.9 11 2.2 11 2.6 11.5"/>
<text x="1681.2" y="1261.0" font-size="37.5">QY-SE-MResNet34</text>
<g fill="#000">
<rect x="1168.45" y="1028.90" width="2.7" height="660.90"/>
<rect x="1991.25" y="1028.90" width="2.7" height="660.90"/>
<rect x="1168.45" y="1028.90" width="825.50" height="2.2"/>
<rect x="1168.45" y="1687.60" width="825.50" height="2.2"/>
<rect x="1373.20" y="1675.70" width="2.5" height="13"/>
<rect x="1577.85" y="1675.70" width="2.5" height="13"/>
<rect x="1782.50" y="1675.70" width="2.5" height="13"/>
<rect x="1987.15" y="1675.70" width="2.5" height="13"/>
<rect x="1169.80" y="1583.79" width="13.3" height="2.5"/>
<rect x="1169.80" y="1445.03" width="13.3" height="2.5"/>
<rect x="1169.80" y="1306.27" width="13.3" height="2.5"/>
<rect x="1169.80" y="1167.51" width="13.3" height="2.5"/>
</g>
<text x="1169.8" y="1731.9" font-size="37.5" text-anchor="middle">0</text>
<text x="1374.5" y="1731.9" font-size="37.5" text-anchor="middle">50</text>
<text x="1579.1" y="1731.9" font-size="37.5" text-anchor="middle">100</text>
<text x="1783.8" y="1731.9" font-size="37.5" text-anchor="middle">150</text>
<text x="1988.4" y="1731.9" font-size="37.5" text-anchor="middle">200</text>
<text x="1155.2" y="1596.5" font-size="37.5" text-anchor="end">0.4</text>
<text x="1155.2" y="1457.8" font-size="37.5" text-anchor="end">0.8</text>
<text x="1155.2" y="1319.0" font-size="37.5" text-anchor="end">1.2</text>
<text x="1155.2" y="1180.3" font-size="37.5" text-anchor="end">1.6</text>
<text x="1155.2" y="1041.5" font-size="37.5" text-anchor="end">2.0</text>
<text x="1581.2" y="1791.4" font-size="37.5" text-anchor="middle">epotch</text>
<text transform="translate(1093.5,1359.3) rotate(-90)" x="0" y="0" font-size="37.5" text-anchor="middle">val_loss</text>
<text x="1566.6" y="1011.4" font-size="37.5" text-anchor="middle">Comparison chart of validation loss</text>
</svg></body></html>
